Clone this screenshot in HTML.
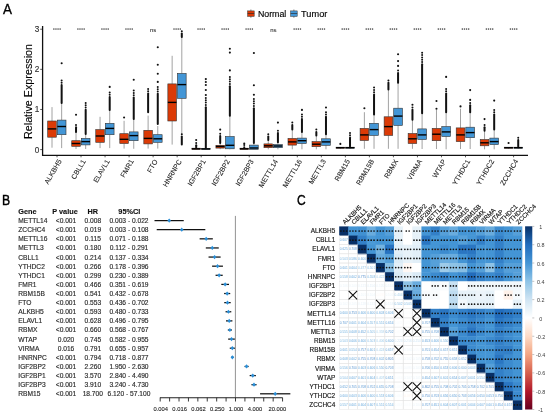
<!DOCTYPE html><html><head><meta charset="utf-8"><style>html,body{margin:0;padding:0;background:#fff;overflow:hidden;width:550px;height:414px;}svg{display:block;will-change:transform;}</style></head><body>
<svg width="550" height="414" viewBox="0 0 550 414" font-family='"Liberation Sans", sans-serif'>
<rect width="550" height="414" fill="#fff"/>
<g id="A">
<text x="3" y="13.9" font-size="15.3" transform="translate(3 0) scale(0.88 1) translate(-3 0)" fill="#000" stroke="#000" stroke-width="0.35">A</text>
<line x1="40.2" x2="42.6" y1="149.60" y2="149.60" stroke="#333" stroke-width="0.8"/>
<text x="39.2" y="152.50" font-size="8.2" text-anchor="end" fill="#333" stroke="#333" stroke-width="0.15">0</text>
<line x1="40.2" x2="42.6" y1="109.47" y2="109.47" stroke="#333" stroke-width="0.8"/>
<text x="39.2" y="112.37" font-size="8.2" text-anchor="end" fill="#333" stroke="#333" stroke-width="0.15">1</text>
<line x1="40.2" x2="42.6" y1="69.34" y2="69.34" stroke="#333" stroke-width="0.8"/>
<text x="39.2" y="72.24" font-size="8.2" text-anchor="end" fill="#333" stroke="#333" stroke-width="0.15">2</text>
<line x1="40.2" x2="42.6" y1="29.21" y2="29.21" stroke="#333" stroke-width="0.8"/>
<text x="39.2" y="32.11" font-size="8.2" text-anchor="end" fill="#333" stroke="#333" stroke-width="0.15">3</text>
<text transform="translate(31.9 91.5) rotate(-90)" font-size="10.75" text-anchor="middle" fill="#000" stroke="#000" stroke-width="0.1">Relative Expression</text>
<line x1="52.00" x2="52.00" y1="107.10" y2="121.00" stroke="#8a8a8a" stroke-width="0.8"/>
<line x1="52.00" x2="52.00" y1="137.20" y2="147.70" stroke="#8a8a8a" stroke-width="0.8"/>
<rect x="47.70" y="121.00" width="8.60" height="16.20" fill="#db3a06" stroke="#333" stroke-width="0.6"/>
<line x1="47.70" x2="56.30" y1="128.90" y2="128.90" stroke="#000" stroke-width="1.4"/>
<line x1="61.65" x2="61.65" y1="103.00" y2="120.10" stroke="#8a8a8a" stroke-width="0.8"/>
<line x1="61.65" x2="61.65" y1="134.70" y2="148.10" stroke="#8a8a8a" stroke-width="0.8"/>
<circle cx="61.65" cy="80.40" r="1.0" fill="#111"/>
<circle cx="61.65" cy="82.70" r="1.0" fill="#111"/>
<rect x="60.65" y="84.00" width="2.0" height="20.00" rx="1.0" fill="#111"/>
<circle cx="61.65" cy="63.30" r="1.05" fill="#111"/>
<rect x="57.30" y="120.10" width="8.70" height="14.60" fill="#4396d6" stroke="#333" stroke-width="0.6"/>
<line x1="57.30" x2="66.00" y1="126.50" y2="126.50" stroke="#000" stroke-width="1.4"/>
<rect x="53.20" y="28.3" width="1.3" height="1.5" fill="#585858"/>
<rect x="55.30" y="28.3" width="1.3" height="1.5" fill="#585858"/>
<rect x="57.40" y="28.3" width="1.3" height="1.5" fill="#585858"/>
<rect x="59.50" y="28.3" width="1.3" height="1.5" fill="#585858"/>
<line x1="57.00" x2="57.00" y1="155.3" y2="157.3" stroke="#333" stroke-width="0.8"/>
<text transform="translate(57.70 158.80) rotate(-60)" font-size="7.1" text-anchor="end" fill="#1a1a1a" stroke="#1a1a1a" stroke-width="0.08" dominant-baseline="hanging">ALKBH5</text>
<line x1="76.03" x2="76.03" y1="131.90" y2="140.70" stroke="#8a8a8a" stroke-width="0.8"/>
<line x1="76.03" x2="76.03" y1="146.30" y2="149.00" stroke="#8a8a8a" stroke-width="0.8"/>
<circle cx="76.03" cy="125.00" r="1.0" fill="#111"/>
<rect x="75.03" y="126.30" width="2.0" height="6.60" rx="1.0" fill="#111"/>
<circle cx="76.03" cy="114.80" r="1.05" fill="#111"/>
<rect x="71.73" y="140.70" width="8.60" height="5.60" fill="#db3a06" stroke="#333" stroke-width="0.6"/>
<line x1="71.73" x2="80.33" y1="143.50" y2="143.50" stroke="#000" stroke-width="1.4"/>
<line x1="85.68" x2="85.68" y1="134.00" y2="138.40" stroke="#8a8a8a" stroke-width="0.8"/>
<line x1="85.68" x2="85.68" y1="144.90" y2="149.00" stroke="#8a8a8a" stroke-width="0.8"/>
<circle cx="85.68" cy="102.90" r="1.0" fill="#111"/>
<circle cx="85.68" cy="105.20" r="1.0" fill="#111"/>
<circle cx="85.68" cy="107.50" r="1.0" fill="#111"/>
<rect x="84.68" y="108.80" width="2.0" height="26.20" rx="1.0" fill="#111"/>
<rect x="81.33" y="138.40" width="8.70" height="6.50" fill="#4396d6" stroke="#333" stroke-width="0.6"/>
<line x1="81.33" x2="90.03" y1="141.60" y2="141.60" stroke="#000" stroke-width="1.4"/>
<rect x="77.23" y="28.3" width="1.3" height="1.5" fill="#585858"/>
<rect x="79.33" y="28.3" width="1.3" height="1.5" fill="#585858"/>
<rect x="81.43" y="28.3" width="1.3" height="1.5" fill="#585858"/>
<rect x="83.53" y="28.3" width="1.3" height="1.5" fill="#585858"/>
<line x1="81.03" x2="81.03" y1="155.3" y2="157.3" stroke="#333" stroke-width="0.8"/>
<text transform="translate(81.73 158.80) rotate(-60)" font-size="7.1" text-anchor="end" fill="#1a1a1a" stroke="#1a1a1a" stroke-width="0.08" dominant-baseline="hanging">CBLL1</text>
<line x1="100.06" x2="100.06" y1="116.80" y2="129.60" stroke="#8a8a8a" stroke-width="0.8"/>
<line x1="100.06" x2="100.06" y1="142.30" y2="148.10" stroke="#8a8a8a" stroke-width="0.8"/>
<rect x="95.76" y="129.60" width="8.60" height="12.70" fill="#db3a06" stroke="#333" stroke-width="0.6"/>
<line x1="95.76" x2="104.36" y1="136.00" y2="136.00" stroke="#000" stroke-width="1.4"/>
<line x1="109.71" x2="109.71" y1="110.00" y2="123.30" stroke="#8a8a8a" stroke-width="0.8"/>
<line x1="109.71" x2="109.71" y1="134.70" y2="148.10" stroke="#8a8a8a" stroke-width="0.8"/>
<circle cx="109.71" cy="92.40" r="1.0" fill="#111"/>
<circle cx="109.71" cy="94.70" r="1.0" fill="#111"/>
<rect x="108.71" y="96.00" width="2.0" height="15.00" rx="1.0" fill="#111"/>
<circle cx="109.71" cy="86.90" r="1.05" fill="#111"/>
<rect x="105.36" y="123.30" width="8.70" height="11.40" fill="#4396d6" stroke="#333" stroke-width="0.6"/>
<line x1="105.36" x2="114.06" y1="128.40" y2="128.40" stroke="#000" stroke-width="1.4"/>
<rect x="101.26" y="28.3" width="1.3" height="1.5" fill="#585858"/>
<rect x="103.36" y="28.3" width="1.3" height="1.5" fill="#585858"/>
<rect x="105.46" y="28.3" width="1.3" height="1.5" fill="#585858"/>
<rect x="107.56" y="28.3" width="1.3" height="1.5" fill="#585858"/>
<line x1="105.06" x2="105.06" y1="155.3" y2="157.3" stroke="#333" stroke-width="0.8"/>
<text transform="translate(105.76 158.80) rotate(-60)" font-size="7.1" text-anchor="end" fill="#1a1a1a" stroke="#1a1a1a" stroke-width="0.08" dominant-baseline="hanging">ELAVL1</text>
<line x1="124.09" x2="124.09" y1="120.80" y2="133.70" stroke="#8a8a8a" stroke-width="0.8"/>
<line x1="124.09" x2="124.09" y1="143.50" y2="148.60" stroke="#8a8a8a" stroke-width="0.8"/>
<circle cx="124.09" cy="117.50" r="1.05" fill="#111"/>
<rect x="119.79" y="133.70" width="8.60" height="9.80" fill="#db3a06" stroke="#333" stroke-width="0.6"/>
<line x1="119.79" x2="128.39" y1="139.30" y2="139.30" stroke="#000" stroke-width="1.4"/>
<line x1="133.74" x2="133.74" y1="119.00" y2="131.90" stroke="#8a8a8a" stroke-width="0.8"/>
<line x1="133.74" x2="133.74" y1="140.70" y2="148.80" stroke="#8a8a8a" stroke-width="0.8"/>
<circle cx="133.74" cy="90.60" r="1.0" fill="#111"/>
<circle cx="133.74" cy="92.90" r="1.0" fill="#111"/>
<circle cx="133.74" cy="95.20" r="1.0" fill="#111"/>
<rect x="132.74" y="96.50" width="2.0" height="23.50" rx="1.0" fill="#111"/>
<circle cx="133.74" cy="79.70" r="1.05" fill="#111"/>
<rect x="129.39" y="131.90" width="8.70" height="8.80" fill="#4396d6" stroke="#333" stroke-width="0.6"/>
<line x1="129.39" x2="138.09" y1="135.60" y2="135.60" stroke="#000" stroke-width="1.4"/>
<rect x="125.29" y="28.3" width="1.3" height="1.5" fill="#585858"/>
<rect x="127.39" y="28.3" width="1.3" height="1.5" fill="#585858"/>
<rect x="129.49" y="28.3" width="1.3" height="1.5" fill="#585858"/>
<rect x="131.59" y="28.3" width="1.3" height="1.5" fill="#585858"/>
<line x1="129.09" x2="129.09" y1="155.3" y2="157.3" stroke="#333" stroke-width="0.8"/>
<text transform="translate(129.79 158.80) rotate(-60)" font-size="7.1" text-anchor="end" fill="#1a1a1a" stroke="#1a1a1a" stroke-width="0.08" dominant-baseline="hanging">FMR1</text>
<line x1="148.12" x2="148.12" y1="115.60" y2="130.30" stroke="#8a8a8a" stroke-width="0.8"/>
<line x1="148.12" x2="148.12" y1="143.90" y2="148.60" stroke="#8a8a8a" stroke-width="0.8"/>
<circle cx="148.12" cy="89.00" r="1.0" fill="#111"/>
<circle cx="148.12" cy="91.30" r="1.0" fill="#111"/>
<rect x="147.12" y="92.60" width="2.0" height="20.60" rx="1.0" fill="#111"/>
<rect x="143.82" y="130.30" width="8.60" height="13.60" fill="#db3a06" stroke="#333" stroke-width="0.6"/>
<line x1="143.82" x2="152.42" y1="138.40" y2="138.40" stroke="#000" stroke-width="1.4"/>
<line x1="157.77" x2="157.77" y1="126.00" y2="134.70" stroke="#8a8a8a" stroke-width="0.8"/>
<line x1="157.77" x2="157.77" y1="142.30" y2="148.60" stroke="#8a8a8a" stroke-width="0.8"/>
<circle cx="157.77" cy="86.90" r="1.0" fill="#111"/>
<circle cx="157.77" cy="89.20" r="1.0" fill="#111"/>
<circle cx="157.77" cy="91.50" r="1.0" fill="#111"/>
<rect x="156.77" y="92.80" width="2.0" height="32.20" rx="1.0" fill="#111"/>
<circle cx="157.77" cy="47.20" r="1.05" fill="#111"/>
<circle cx="157.77" cy="64.70" r="1.05" fill="#111"/>
<circle cx="157.77" cy="73.80" r="1.05" fill="#111"/>
<circle cx="157.77" cy="81.90" r="1.05" fill="#111"/>
<rect x="153.42" y="134.70" width="8.70" height="7.60" fill="#4396d6" stroke="#333" stroke-width="0.6"/>
<line x1="153.42" x2="162.12" y1="138.80" y2="138.80" stroke="#000" stroke-width="1.4"/>
<text x="153.12" y="31.9" font-size="5.9" text-anchor="middle" fill="#333" stroke="#333" stroke-width="0.1">ns</text>
<line x1="153.12" x2="153.12" y1="155.3" y2="157.3" stroke="#333" stroke-width="0.8"/>
<text transform="translate(153.82 158.80) rotate(-60)" font-size="7.1" text-anchor="end" fill="#1a1a1a" stroke="#1a1a1a" stroke-width="0.08" dominant-baseline="hanging">FTO</text>
<line x1="172.15" x2="172.15" y1="55.80" y2="83.90" stroke="#8a8a8a" stroke-width="0.8"/>
<line x1="172.15" x2="172.15" y1="121.00" y2="144.60" stroke="#8a8a8a" stroke-width="0.8"/>
<rect x="167.85" y="83.90" width="8.60" height="37.10" fill="#db3a06" stroke="#333" stroke-width="0.6"/>
<line x1="167.85" x2="176.45" y1="102.40" y2="102.40" stroke="#000" stroke-width="1.4"/>
<line x1="181.80" x2="181.80" y1="37.00" y2="73.40" stroke="#8a8a8a" stroke-width="0.8"/>
<line x1="181.80" x2="181.80" y1="98.30" y2="134.20" stroke="#8a8a8a" stroke-width="0.8"/>
<circle cx="181.80" cy="31.20" r="1.0" fill="#111"/>
<rect x="180.80" y="32.50" width="2.0" height="5.50" rx="1.0" fill="#111"/>
<circle cx="181.80" cy="134.20" r="1.0" fill="#111"/>
<rect x="180.80" y="135.50" width="2.0" height="10.10" rx="1.0" fill="#111"/>
<rect x="177.45" y="73.40" width="8.70" height="24.90" fill="#4396d6" stroke="#333" stroke-width="0.6"/>
<line x1="177.45" x2="186.15" y1="84.60" y2="84.60" stroke="#000" stroke-width="1.4"/>
<rect x="173.35" y="28.3" width="1.3" height="1.5" fill="#585858"/>
<rect x="175.45" y="28.3" width="1.3" height="1.5" fill="#585858"/>
<rect x="177.55" y="28.3" width="1.3" height="1.5" fill="#585858"/>
<rect x="179.65" y="28.3" width="1.3" height="1.5" fill="#585858"/>
<line x1="177.15" x2="177.15" y1="155.3" y2="157.3" stroke="#333" stroke-width="0.8"/>
<text transform="translate(177.85 158.80) rotate(-60)" font-size="7.1" text-anchor="end" fill="#1a1a1a" stroke="#1a1a1a" stroke-width="0.08" dominant-baseline="hanging">HNRNPC</text>
<line x1="196.18" x2="196.18" y1="148.00" y2="148.20" stroke="#8a8a8a" stroke-width="0.8"/>
<line x1="196.18" x2="196.18" y1="149.30" y2="149.50" stroke="#8a8a8a" stroke-width="0.8"/>
<circle cx="196.18" cy="143.00" r="1.0" fill="#111"/>
<rect x="195.18" y="144.30" width="2.0" height="4.20" rx="1.0" fill="#111"/>
<circle cx="196.18" cy="140.00" r="1.05" fill="#111"/>
<rect x="191.88" y="148.20" width="8.60" height="1.10" fill="#db3a06" stroke="#333" stroke-width="0.6"/>
<line x1="191.88" x2="200.48" y1="148.80" y2="148.80" stroke="#000" stroke-width="1.4"/>
<line x1="205.83" x2="205.83" y1="148.50" y2="148.40" stroke="#8a8a8a" stroke-width="0.8"/>
<line x1="205.83" x2="205.83" y1="149.30" y2="149.50" stroke="#8a8a8a" stroke-width="0.8"/>
<circle cx="205.83" cy="98.00" r="1.0" fill="#111"/>
<circle cx="205.83" cy="100.30" r="1.0" fill="#111"/>
<circle cx="205.83" cy="102.60" r="1.0" fill="#111"/>
<circle cx="205.83" cy="104.90" r="1.0" fill="#111"/>
<rect x="204.83" y="106.20" width="2.0" height="42.80" rx="1.0" fill="#111"/>
<circle cx="205.83" cy="79.10" r="1.05" fill="#111"/>
<circle cx="205.83" cy="82.00" r="1.05" fill="#111"/>
<circle cx="205.83" cy="85.00" r="1.05" fill="#111"/>
<circle cx="205.83" cy="90.00" r="1.05" fill="#111"/>
<circle cx="205.83" cy="95.00" r="1.05" fill="#111"/>
<rect x="201.48" y="148.40" width="8.70" height="0.90" fill="#4396d6" stroke="#333" stroke-width="0.6"/>
<line x1="201.48" x2="210.18" y1="148.90" y2="148.90" stroke="#000" stroke-width="1.4"/>
<rect x="197.38" y="28.3" width="1.3" height="1.5" fill="#585858"/>
<rect x="199.48" y="28.3" width="1.3" height="1.5" fill="#585858"/>
<rect x="201.58" y="28.3" width="1.3" height="1.5" fill="#585858"/>
<rect x="203.68" y="28.3" width="1.3" height="1.5" fill="#585858"/>
<line x1="201.18" x2="201.18" y1="155.3" y2="157.3" stroke="#333" stroke-width="0.8"/>
<text transform="translate(201.88 158.80) rotate(-60)" font-size="7.1" text-anchor="end" fill="#1a1a1a" stroke="#1a1a1a" stroke-width="0.08" dominant-baseline="hanging">IGF2BP1</text>
<line x1="220.21" x2="220.21" y1="143.00" y2="145.30" stroke="#8a8a8a" stroke-width="0.8"/>
<line x1="220.21" x2="220.21" y1="148.10" y2="149.20" stroke="#8a8a8a" stroke-width="0.8"/>
<circle cx="220.21" cy="133.80" r="1.0" fill="#111"/>
<rect x="219.21" y="135.10" width="2.0" height="8.90" rx="1.0" fill="#111"/>
<circle cx="220.21" cy="129.60" r="1.05" fill="#111"/>
<rect x="215.91" y="145.30" width="8.60" height="2.80" fill="#db3a06" stroke="#333" stroke-width="0.6"/>
<line x1="215.91" x2="224.51" y1="146.50" y2="146.50" stroke="#000" stroke-width="1.4"/>
<line x1="229.86" x2="229.86" y1="115.70" y2="136.50" stroke="#8a8a8a" stroke-width="0.8"/>
<line x1="229.86" x2="229.86" y1="148.80" y2="149.30" stroke="#8a8a8a" stroke-width="0.8"/>
<circle cx="229.86" cy="77.00" r="1.0" fill="#111"/>
<circle cx="229.86" cy="79.30" r="1.0" fill="#111"/>
<circle cx="229.86" cy="81.60" r="1.0" fill="#111"/>
<circle cx="229.86" cy="83.90" r="1.0" fill="#111"/>
<rect x="228.86" y="85.20" width="2.0" height="31.50" rx="1.0" fill="#111"/>
<circle cx="229.86" cy="48.70" r="1.05" fill="#111"/>
<circle cx="229.86" cy="52.60" r="1.05" fill="#111"/>
<circle cx="229.86" cy="70.40" r="1.05" fill="#111"/>
<rect x="225.51" y="136.50" width="8.70" height="12.30" fill="#4396d6" stroke="#333" stroke-width="0.6"/>
<line x1="225.51" x2="234.21" y1="145.30" y2="145.30" stroke="#000" stroke-width="1.4"/>
<rect x="221.41" y="28.3" width="1.3" height="1.5" fill="#585858"/>
<rect x="223.51" y="28.3" width="1.3" height="1.5" fill="#585858"/>
<rect x="225.61" y="28.3" width="1.3" height="1.5" fill="#585858"/>
<rect x="227.71" y="28.3" width="1.3" height="1.5" fill="#585858"/>
<line x1="225.21" x2="225.21" y1="155.3" y2="157.3" stroke="#333" stroke-width="0.8"/>
<text transform="translate(225.91 158.80) rotate(-60)" font-size="7.1" text-anchor="end" fill="#1a1a1a" stroke="#1a1a1a" stroke-width="0.08" dominant-baseline="hanging">IGF2BP2</text>
<line x1="244.24" x2="244.24" y1="148.00" y2="148.20" stroke="#8a8a8a" stroke-width="0.8"/>
<line x1="244.24" x2="244.24" y1="149.30" y2="149.50" stroke="#8a8a8a" stroke-width="0.8"/>
<circle cx="244.24" cy="145.00" r="1.0" fill="#111"/>
<rect x="243.24" y="146.30" width="2.0" height="2.20" rx="1.0" fill="#111"/>
<circle cx="244.24" cy="143.50" r="1.05" fill="#111"/>
<rect x="239.94" y="148.20" width="8.60" height="1.10" fill="#db3a06" stroke="#333" stroke-width="0.6"/>
<line x1="239.94" x2="248.54" y1="148.80" y2="148.80" stroke="#000" stroke-width="1.4"/>
<line x1="253.89" x2="253.89" y1="143.00" y2="145.10" stroke="#8a8a8a" stroke-width="0.8"/>
<line x1="253.89" x2="253.89" y1="149.30" y2="149.50" stroke="#8a8a8a" stroke-width="0.8"/>
<circle cx="253.89" cy="99.00" r="1.0" fill="#111"/>
<circle cx="253.89" cy="101.30" r="1.0" fill="#111"/>
<circle cx="253.89" cy="103.60" r="1.0" fill="#111"/>
<circle cx="253.89" cy="105.90" r="1.0" fill="#111"/>
<rect x="252.89" y="107.20" width="2.0" height="36.80" rx="1.0" fill="#111"/>
<circle cx="253.89" cy="53.00" r="1.05" fill="#111"/>
<circle cx="253.89" cy="85.20" r="1.05" fill="#111"/>
<circle cx="253.89" cy="94.80" r="1.05" fill="#111"/>
<rect x="249.54" y="145.10" width="8.70" height="4.20" fill="#4396d6" stroke="#333" stroke-width="0.6"/>
<line x1="249.54" x2="258.24" y1="148.00" y2="148.00" stroke="#000" stroke-width="1.4"/>
<rect x="245.44" y="28.3" width="1.3" height="1.5" fill="#585858"/>
<rect x="247.54" y="28.3" width="1.3" height="1.5" fill="#585858"/>
<rect x="249.64" y="28.3" width="1.3" height="1.5" fill="#585858"/>
<rect x="251.74" y="28.3" width="1.3" height="1.5" fill="#585858"/>
<line x1="249.24" x2="249.24" y1="155.3" y2="157.3" stroke="#333" stroke-width="0.8"/>
<text transform="translate(249.94 158.80) rotate(-60)" font-size="7.1" text-anchor="end" fill="#1a1a1a" stroke="#1a1a1a" stroke-width="0.08" dominant-baseline="hanging">IGF2BP3</text>
<line x1="268.27" x2="268.27" y1="140.00" y2="143.90" stroke="#8a8a8a" stroke-width="0.8"/>
<line x1="268.27" x2="268.27" y1="147.70" y2="149.30" stroke="#8a8a8a" stroke-width="0.8"/>
<circle cx="268.27" cy="134.20" r="1.0" fill="#111"/>
<rect x="267.27" y="135.50" width="2.0" height="5.50" rx="1.0" fill="#111"/>
<rect x="263.97" y="143.90" width="8.60" height="3.80" fill="#db3a06" stroke="#333" stroke-width="0.6"/>
<line x1="263.97" x2="272.57" y1="145.80" y2="145.80" stroke="#000" stroke-width="1.4"/>
<line x1="277.92" x2="277.92" y1="142.30" y2="144.60" stroke="#8a8a8a" stroke-width="0.8"/>
<line x1="277.92" x2="277.92" y1="147.70" y2="149.30" stroke="#8a8a8a" stroke-width="0.8"/>
<circle cx="277.92" cy="130.70" r="1.0" fill="#111"/>
<rect x="276.92" y="132.00" width="2.0" height="11.30" rx="1.0" fill="#111"/>
<circle cx="277.92" cy="122.60" r="1.05" fill="#111"/>
<rect x="273.57" y="144.60" width="8.70" height="3.10" fill="#4396d6" stroke="#333" stroke-width="0.6"/>
<line x1="273.57" x2="282.27" y1="146.00" y2="146.00" stroke="#000" stroke-width="1.4"/>
<text x="273.27" y="31.9" font-size="5.9" text-anchor="middle" fill="#333" stroke="#333" stroke-width="0.1">ns</text>
<line x1="273.27" x2="273.27" y1="155.3" y2="157.3" stroke="#333" stroke-width="0.8"/>
<text transform="translate(273.97 158.80) rotate(-60)" font-size="7.1" text-anchor="end" fill="#1a1a1a" stroke="#1a1a1a" stroke-width="0.08" dominant-baseline="hanging">METTL14</text>
<line x1="292.30" x2="292.30" y1="130.00" y2="138.40" stroke="#8a8a8a" stroke-width="0.8"/>
<line x1="292.30" x2="292.30" y1="145.10" y2="149.30" stroke="#8a8a8a" stroke-width="0.8"/>
<circle cx="292.30" cy="122.60" r="1.0" fill="#111"/>
<rect x="291.30" y="123.90" width="2.0" height="6.70" rx="1.0" fill="#111"/>
<rect x="288.00" y="138.40" width="8.60" height="6.70" fill="#db3a06" stroke="#333" stroke-width="0.6"/>
<line x1="288.00" x2="296.60" y1="141.90" y2="141.90" stroke="#000" stroke-width="1.4"/>
<line x1="301.95" x2="301.95" y1="132.00" y2="138.10" stroke="#8a8a8a" stroke-width="0.8"/>
<line x1="301.95" x2="301.95" y1="143.50" y2="149.30" stroke="#8a8a8a" stroke-width="0.8"/>
<circle cx="301.95" cy="114.50" r="1.0" fill="#111"/>
<circle cx="301.95" cy="116.80" r="1.0" fill="#111"/>
<rect x="300.95" y="118.10" width="2.0" height="14.80" rx="1.0" fill="#111"/>
<circle cx="301.95" cy="109.90" r="1.05" fill="#111"/>
<rect x="297.60" y="138.10" width="8.70" height="5.40" fill="#4396d6" stroke="#333" stroke-width="0.6"/>
<line x1="297.60" x2="306.30" y1="140.70" y2="140.70" stroke="#000" stroke-width="1.4"/>
<rect x="293.50" y="28.3" width="1.3" height="1.5" fill="#585858"/>
<rect x="295.60" y="28.3" width="1.3" height="1.5" fill="#585858"/>
<rect x="297.70" y="28.3" width="1.3" height="1.5" fill="#585858"/>
<rect x="299.80" y="28.3" width="1.3" height="1.5" fill="#585858"/>
<line x1="297.30" x2="297.30" y1="155.3" y2="157.3" stroke="#333" stroke-width="0.8"/>
<text transform="translate(298.00 158.80) rotate(-60)" font-size="7.1" text-anchor="end" fill="#1a1a1a" stroke="#1a1a1a" stroke-width="0.08" dominant-baseline="hanging">METTL16</text>
<line x1="316.33" x2="316.33" y1="136.00" y2="141.60" stroke="#8a8a8a" stroke-width="0.8"/>
<line x1="316.33" x2="316.33" y1="146.70" y2="149.30" stroke="#8a8a8a" stroke-width="0.8"/>
<circle cx="316.33" cy="129.60" r="1.0" fill="#111"/>
<rect x="315.33" y="130.90" width="2.0" height="5.50" rx="1.0" fill="#111"/>
<rect x="312.03" y="141.60" width="8.60" height="5.10" fill="#db3a06" stroke="#333" stroke-width="0.6"/>
<line x1="312.03" x2="320.63" y1="144.20" y2="144.20" stroke="#000" stroke-width="1.4"/>
<line x1="325.98" x2="325.98" y1="134.20" y2="138.80" stroke="#8a8a8a" stroke-width="0.8"/>
<line x1="325.98" x2="325.98" y1="145.30" y2="149.30" stroke="#8a8a8a" stroke-width="0.8"/>
<circle cx="325.98" cy="112.20" r="1.0" fill="#111"/>
<circle cx="325.98" cy="114.50" r="1.0" fill="#111"/>
<rect x="324.98" y="115.80" width="2.0" height="19.40" rx="1.0" fill="#111"/>
<circle cx="325.98" cy="107.50" r="1.05" fill="#111"/>
<rect x="321.63" y="138.80" width="8.70" height="6.50" fill="#4396d6" stroke="#333" stroke-width="0.6"/>
<line x1="321.63" x2="330.33" y1="141.90" y2="141.90" stroke="#000" stroke-width="1.4"/>
<rect x="317.53" y="28.3" width="1.3" height="1.5" fill="#585858"/>
<rect x="319.63" y="28.3" width="1.3" height="1.5" fill="#585858"/>
<rect x="321.73" y="28.3" width="1.3" height="1.5" fill="#585858"/>
<rect x="323.83" y="28.3" width="1.3" height="1.5" fill="#585858"/>
<line x1="321.33" x2="321.33" y1="155.3" y2="157.3" stroke="#333" stroke-width="0.8"/>
<text transform="translate(322.03 158.80) rotate(-60)" font-size="7.1" text-anchor="end" fill="#1a1a1a" stroke="#1a1a1a" stroke-width="0.08" dominant-baseline="hanging">METTL3</text>
<line x1="340.36" x2="340.36" y1="147.00" y2="147.20" stroke="#8a8a8a" stroke-width="0.8"/>
<line x1="340.36" x2="340.36" y1="148.20" y2="149.00" stroke="#8a8a8a" stroke-width="0.8"/>
<circle cx="340.36" cy="143.90" r="1.05" fill="#111"/>
<rect x="336.06" y="147.20" width="8.60" height="1.00" fill="#db3a06" stroke="#333" stroke-width="0.6"/>
<line x1="336.06" x2="344.66" y1="147.70" y2="147.70" stroke="#000" stroke-width="1.4"/>
<line x1="350.01" x2="350.01" y1="146.50" y2="147.20" stroke="#8a8a8a" stroke-width="0.8"/>
<line x1="350.01" x2="350.01" y1="148.20" y2="149.00" stroke="#8a8a8a" stroke-width="0.8"/>
<circle cx="350.01" cy="133.00" r="1.0" fill="#111"/>
<circle cx="350.01" cy="135.30" r="1.0" fill="#111"/>
<rect x="349.01" y="136.60" width="2.0" height="10.90" rx="1.0" fill="#111"/>
<rect x="345.66" y="147.20" width="8.70" height="1.00" fill="#4396d6" stroke="#333" stroke-width="0.6"/>
<line x1="345.66" x2="354.36" y1="147.70" y2="147.70" stroke="#000" stroke-width="1.4"/>
<rect x="341.56" y="28.3" width="1.3" height="1.5" fill="#585858"/>
<rect x="343.66" y="28.3" width="1.3" height="1.5" fill="#585858"/>
<rect x="345.76" y="28.3" width="1.3" height="1.5" fill="#585858"/>
<rect x="347.86" y="28.3" width="1.3" height="1.5" fill="#585858"/>
<line x1="345.36" x2="345.36" y1="155.3" y2="157.3" stroke="#333" stroke-width="0.8"/>
<text transform="translate(346.06 158.80) rotate(-60)" font-size="7.1" text-anchor="end" fill="#1a1a1a" stroke="#1a1a1a" stroke-width="0.08" dominant-baseline="hanging">RBM15</text>
<line x1="364.39" x2="364.39" y1="112.20" y2="128.40" stroke="#8a8a8a" stroke-width="0.8"/>
<line x1="364.39" x2="364.39" y1="140.50" y2="148.80" stroke="#8a8a8a" stroke-width="0.8"/>
<circle cx="364.39" cy="108.20" r="1.05" fill="#111"/>
<rect x="360.09" y="128.40" width="8.60" height="12.10" fill="#db3a06" stroke="#333" stroke-width="0.6"/>
<line x1="360.09" x2="368.69" y1="134.90" y2="134.90" stroke="#000" stroke-width="1.4"/>
<line x1="374.04" x2="374.04" y1="114.50" y2="123.30" stroke="#8a8a8a" stroke-width="0.8"/>
<line x1="374.04" x2="374.04" y1="135.40" y2="148.80" stroke="#8a8a8a" stroke-width="0.8"/>
<circle cx="374.04" cy="87.60" r="1.0" fill="#111"/>
<circle cx="374.04" cy="89.90" r="1.0" fill="#111"/>
<circle cx="374.04" cy="92.20" r="1.0" fill="#111"/>
<rect x="373.04" y="93.50" width="2.0" height="22.00" rx="1.0" fill="#111"/>
<rect x="369.69" y="123.30" width="8.70" height="12.10" fill="#4396d6" stroke="#333" stroke-width="0.6"/>
<line x1="369.69" x2="378.39" y1="129.60" y2="129.60" stroke="#000" stroke-width="1.4"/>
<rect x="365.59" y="28.3" width="1.3" height="1.5" fill="#585858"/>
<rect x="367.69" y="28.3" width="1.3" height="1.5" fill="#585858"/>
<rect x="369.79" y="28.3" width="1.3" height="1.5" fill="#585858"/>
<rect x="371.89" y="28.3" width="1.3" height="1.5" fill="#585858"/>
<line x1="369.39" x2="369.39" y1="155.3" y2="157.3" stroke="#333" stroke-width="0.8"/>
<text transform="translate(370.09 158.80) rotate(-60)" font-size="7.1" text-anchor="end" fill="#1a1a1a" stroke="#1a1a1a" stroke-width="0.08" dominant-baseline="hanging">RBM15B</text>
<line x1="388.42" x2="388.42" y1="90.10" y2="116.80" stroke="#8a8a8a" stroke-width="0.8"/>
<line x1="388.42" x2="388.42" y1="135.40" y2="148.80" stroke="#8a8a8a" stroke-width="0.8"/>
<circle cx="388.42" cy="80.40" r="1.0" fill="#111"/>
<rect x="387.42" y="81.70" width="2.0" height="8.80" rx="1.0" fill="#111"/>
<rect x="384.12" y="116.80" width="8.60" height="18.60" fill="#db3a06" stroke="#333" stroke-width="0.6"/>
<line x1="384.12" x2="392.72" y1="126.60" y2="126.60" stroke="#000" stroke-width="1.4"/>
<line x1="398.07" x2="398.07" y1="83.00" y2="108.20" stroke="#8a8a8a" stroke-width="0.8"/>
<line x1="398.07" x2="398.07" y1="125.40" y2="148.80" stroke="#8a8a8a" stroke-width="0.8"/>
<circle cx="398.07" cy="70.60" r="1.0" fill="#111"/>
<rect x="397.07" y="71.90" width="2.0" height="11.80" rx="1.0" fill="#111"/>
<circle cx="398.07" cy="54.20" r="1.05" fill="#111"/>
<circle cx="398.07" cy="61.10" r="1.05" fill="#111"/>
<circle cx="398.07" cy="65.90" r="1.05" fill="#111"/>
<rect x="393.72" y="108.20" width="8.70" height="17.20" fill="#4396d6" stroke="#333" stroke-width="0.6"/>
<line x1="393.72" x2="402.42" y1="116.10" y2="116.10" stroke="#000" stroke-width="1.4"/>
<rect x="389.62" y="28.3" width="1.3" height="1.5" fill="#585858"/>
<rect x="391.72" y="28.3" width="1.3" height="1.5" fill="#585858"/>
<rect x="393.82" y="28.3" width="1.3" height="1.5" fill="#585858"/>
<rect x="395.92" y="28.3" width="1.3" height="1.5" fill="#585858"/>
<line x1="393.42" x2="393.42" y1="155.3" y2="157.3" stroke="#333" stroke-width="0.8"/>
<text transform="translate(394.12 158.80) rotate(-60)" font-size="7.1" text-anchor="end" fill="#1a1a1a" stroke="#1a1a1a" stroke-width="0.08" dominant-baseline="hanging">RBMX</text>
<line x1="412.45" x2="412.45" y1="119.80" y2="133.50" stroke="#8a8a8a" stroke-width="0.8"/>
<line x1="412.45" x2="412.45" y1="143.50" y2="148.80" stroke="#8a8a8a" stroke-width="0.8"/>
<circle cx="412.45" cy="107.50" r="1.0" fill="#111"/>
<rect x="411.45" y="108.80" width="2.0" height="12.00" rx="1.0" fill="#111"/>
<circle cx="412.45" cy="104.80" r="1.05" fill="#111"/>
<rect x="408.15" y="133.50" width="8.60" height="10.00" fill="#db3a06" stroke="#333" stroke-width="0.6"/>
<line x1="408.15" x2="416.75" y1="138.80" y2="138.80" stroke="#000" stroke-width="1.4"/>
<line x1="422.10" x2="422.10" y1="113.30" y2="128.90" stroke="#8a8a8a" stroke-width="0.8"/>
<line x1="422.10" x2="422.10" y1="139.50" y2="149.00" stroke="#8a8a8a" stroke-width="0.8"/>
<circle cx="422.10" cy="52.80" r="1.0" fill="#111"/>
<circle cx="422.10" cy="55.10" r="1.0" fill="#111"/>
<circle cx="422.10" cy="57.40" r="1.0" fill="#111"/>
<circle cx="422.10" cy="59.70" r="1.0" fill="#111"/>
<circle cx="422.10" cy="62.00" r="1.0" fill="#111"/>
<rect x="421.10" y="63.30" width="2.0" height="51.00" rx="1.0" fill="#111"/>
<rect x="417.75" y="128.90" width="8.70" height="10.60" fill="#4396d6" stroke="#333" stroke-width="0.6"/>
<line x1="417.75" x2="426.45" y1="134.90" y2="134.90" stroke="#000" stroke-width="1.4"/>
<rect x="413.65" y="28.3" width="1.3" height="1.5" fill="#585858"/>
<rect x="415.75" y="28.3" width="1.3" height="1.5" fill="#585858"/>
<rect x="417.85" y="28.3" width="1.3" height="1.5" fill="#585858"/>
<rect x="419.95" y="28.3" width="1.3" height="1.5" fill="#585858"/>
<line x1="417.45" x2="417.45" y1="155.3" y2="157.3" stroke="#333" stroke-width="0.8"/>
<text transform="translate(418.15 158.80) rotate(-60)" font-size="7.1" text-anchor="end" fill="#1a1a1a" stroke="#1a1a1a" stroke-width="0.08" dominant-baseline="hanging">VIRMA</text>
<line x1="436.48" x2="436.48" y1="109.90" y2="128.40" stroke="#8a8a8a" stroke-width="0.8"/>
<line x1="436.48" x2="436.48" y1="140.70" y2="149.00" stroke="#8a8a8a" stroke-width="0.8"/>
<circle cx="436.48" cy="101.00" r="1.05" fill="#111"/>
<circle cx="436.48" cy="108.70" r="1.05" fill="#111"/>
<rect x="432.18" y="128.40" width="8.60" height="12.30" fill="#db3a06" stroke="#333" stroke-width="0.6"/>
<line x1="432.18" x2="440.78" y1="134.20" y2="134.20" stroke="#000" stroke-width="1.4"/>
<line x1="446.13" x2="446.13" y1="112.20" y2="126.60" stroke="#8a8a8a" stroke-width="0.8"/>
<line x1="446.13" x2="446.13" y1="136.50" y2="149.30" stroke="#8a8a8a" stroke-width="0.8"/>
<circle cx="446.13" cy="89.00" r="1.0" fill="#111"/>
<circle cx="446.13" cy="91.30" r="1.0" fill="#111"/>
<rect x="445.13" y="92.60" width="2.0" height="20.60" rx="1.0" fill="#111"/>
<circle cx="446.13" cy="76.90" r="1.05" fill="#111"/>
<rect x="441.78" y="126.60" width="8.70" height="9.90" fill="#4396d6" stroke="#333" stroke-width="0.6"/>
<line x1="441.78" x2="450.48" y1="131.90" y2="131.90" stroke="#000" stroke-width="1.4"/>
<rect x="437.68" y="28.3" width="1.3" height="1.5" fill="#585858"/>
<rect x="439.78" y="28.3" width="1.3" height="1.5" fill="#585858"/>
<rect x="441.88" y="28.3" width="1.3" height="1.5" fill="#585858"/>
<rect x="443.98" y="28.3" width="1.3" height="1.5" fill="#585858"/>
<line x1="441.48" x2="441.48" y1="155.3" y2="157.3" stroke="#333" stroke-width="0.8"/>
<text transform="translate(442.18 158.80) rotate(-60)" font-size="7.1" text-anchor="end" fill="#1a1a1a" stroke="#1a1a1a" stroke-width="0.08" dominant-baseline="hanging">WTAP</text>
<line x1="460.51" x2="460.51" y1="108.70" y2="127.90" stroke="#8a8a8a" stroke-width="0.8"/>
<line x1="460.51" x2="460.51" y1="141.60" y2="149.00" stroke="#8a8a8a" stroke-width="0.8"/>
<circle cx="460.51" cy="106.40" r="1.05" fill="#111"/>
<rect x="456.21" y="127.90" width="8.60" height="13.70" fill="#db3a06" stroke="#333" stroke-width="0.6"/>
<line x1="456.21" x2="464.81" y1="134.90" y2="134.90" stroke="#000" stroke-width="1.4"/>
<line x1="470.16" x2="470.16" y1="112.20" y2="127.20" stroke="#8a8a8a" stroke-width="0.8"/>
<line x1="470.16" x2="470.16" y1="137.70" y2="149.00" stroke="#8a8a8a" stroke-width="0.8"/>
<circle cx="470.16" cy="102.90" r="1.0" fill="#111"/>
<rect x="469.16" y="104.20" width="2.0" height="9.00" rx="1.0" fill="#111"/>
<circle cx="470.16" cy="90.10" r="1.05" fill="#111"/>
<circle cx="470.16" cy="99.90" r="1.05" fill="#111"/>
<rect x="465.81" y="127.20" width="8.70" height="10.50" fill="#4396d6" stroke="#333" stroke-width="0.6"/>
<line x1="465.81" x2="474.51" y1="132.60" y2="132.60" stroke="#000" stroke-width="1.4"/>
<rect x="461.71" y="28.3" width="1.3" height="1.5" fill="#585858"/>
<rect x="463.81" y="28.3" width="1.3" height="1.5" fill="#585858"/>
<rect x="465.91" y="28.3" width="1.3" height="1.5" fill="#585858"/>
<rect x="468.01" y="28.3" width="1.3" height="1.5" fill="#585858"/>
<line x1="465.51" x2="465.51" y1="155.3" y2="157.3" stroke="#333" stroke-width="0.8"/>
<text transform="translate(466.21 158.80) rotate(-60)" font-size="7.1" text-anchor="end" fill="#1a1a1a" stroke="#1a1a1a" stroke-width="0.08" dominant-baseline="hanging">YTHDC1</text>
<line x1="484.54" x2="484.54" y1="130.70" y2="139.50" stroke="#8a8a8a" stroke-width="0.8"/>
<line x1="484.54" x2="484.54" y1="145.80" y2="149.30" stroke="#8a8a8a" stroke-width="0.8"/>
<circle cx="484.54" cy="124.90" r="1.0" fill="#111"/>
<rect x="483.54" y="126.20" width="2.0" height="5.50" rx="1.0" fill="#111"/>
<circle cx="484.54" cy="119.10" r="1.05" fill="#111"/>
<rect x="480.24" y="139.50" width="8.60" height="6.30" fill="#db3a06" stroke="#333" stroke-width="0.6"/>
<line x1="480.24" x2="488.84" y1="142.80" y2="142.80" stroke="#000" stroke-width="1.4"/>
<line x1="494.19" x2="494.19" y1="129.60" y2="138.10" stroke="#8a8a8a" stroke-width="0.8"/>
<line x1="494.19" x2="494.19" y1="144.60" y2="149.30" stroke="#8a8a8a" stroke-width="0.8"/>
<circle cx="494.19" cy="109.90" r="1.0" fill="#111"/>
<circle cx="494.19" cy="112.20" r="1.0" fill="#111"/>
<rect x="493.19" y="113.50" width="2.0" height="17.10" rx="1.0" fill="#111"/>
<circle cx="494.19" cy="100.60" r="1.05" fill="#111"/>
<rect x="489.84" y="138.10" width="8.70" height="6.50" fill="#4396d6" stroke="#333" stroke-width="0.6"/>
<line x1="489.84" x2="498.54" y1="141.60" y2="141.60" stroke="#000" stroke-width="1.4"/>
<rect x="485.74" y="28.3" width="1.3" height="1.5" fill="#585858"/>
<rect x="487.84" y="28.3" width="1.3" height="1.5" fill="#585858"/>
<rect x="489.94" y="28.3" width="1.3" height="1.5" fill="#585858"/>
<rect x="492.04" y="28.3" width="1.3" height="1.5" fill="#585858"/>
<line x1="489.54" x2="489.54" y1="155.3" y2="157.3" stroke="#333" stroke-width="0.8"/>
<text transform="translate(490.24 158.80) rotate(-60)" font-size="7.1" text-anchor="end" fill="#1a1a1a" stroke="#1a1a1a" stroke-width="0.08" dominant-baseline="hanging">YTHDC2</text>
<line x1="508.57" x2="508.57" y1="147.00" y2="147.20" stroke="#8a8a8a" stroke-width="0.8"/>
<line x1="508.57" x2="508.57" y1="148.20" y2="149.00" stroke="#8a8a8a" stroke-width="0.8"/>
<circle cx="508.57" cy="143.00" r="1.05" fill="#111"/>
<rect x="504.27" y="147.20" width="8.60" height="1.00" fill="#db3a06" stroke="#333" stroke-width="0.6"/>
<line x1="504.27" x2="512.87" y1="147.70" y2="147.70" stroke="#000" stroke-width="1.4"/>
<line x1="518.22" x2="518.22" y1="146.50" y2="147.20" stroke="#8a8a8a" stroke-width="0.8"/>
<line x1="518.22" x2="518.22" y1="148.20" y2="149.00" stroke="#8a8a8a" stroke-width="0.8"/>
<circle cx="518.22" cy="137.70" r="1.0" fill="#111"/>
<rect x="517.22" y="139.00" width="2.0" height="8.50" rx="1.0" fill="#111"/>
<rect x="513.87" y="147.20" width="8.70" height="1.00" fill="#4396d6" stroke="#333" stroke-width="0.6"/>
<line x1="513.87" x2="522.57" y1="147.70" y2="147.70" stroke="#000" stroke-width="1.4"/>
<rect x="509.77" y="28.3" width="1.3" height="1.5" fill="#585858"/>
<rect x="511.87" y="28.3" width="1.3" height="1.5" fill="#585858"/>
<rect x="513.97" y="28.3" width="1.3" height="1.5" fill="#585858"/>
<rect x="516.07" y="28.3" width="1.3" height="1.5" fill="#585858"/>
<line x1="513.57" x2="513.57" y1="155.3" y2="157.3" stroke="#333" stroke-width="0.8"/>
<text transform="translate(514.27 158.80) rotate(-60)" font-size="7.1" text-anchor="end" fill="#1a1a1a" stroke="#1a1a1a" stroke-width="0.08" dominant-baseline="hanging">ZCCHC4</text>
<line x1="42.6" x2="42.6" y1="26" y2="156" stroke="#111" stroke-width="1.3"/>
<line x1="42" x2="528" y1="155.3" y2="155.3" stroke="#111" stroke-width="1.3"/>
<line x1="250.90" x2="250.90" y1="9.5" y2="17.8" stroke="#555" stroke-width="0.7"/>
<rect x="247.60" y="10.9" width="6.6" height="5.5" fill="#db3a06" stroke="#333" stroke-width="0.5"/>
<line x1="247.60" x2="254.20" y1="13.5" y2="13.5" stroke="#222" stroke-width="0.6"/>
<line x1="293.90" x2="293.90" y1="9.5" y2="17.8" stroke="#555" stroke-width="0.7"/>
<rect x="290.60" y="10.9" width="6.6" height="5.5" fill="#4396d6" stroke="#333" stroke-width="0.5"/>
<line x1="290.60" x2="297.20" y1="13.5" y2="13.5" stroke="#222" stroke-width="0.6"/>
<text x="257.9" y="17" font-size="9.3" fill="#000" stroke="#000" stroke-width="0.15" textLength="28.4" lengthAdjust="spacingAndGlyphs">Normal</text>
<text x="301.1" y="17" font-size="9.3" fill="#000" stroke="#000" stroke-width="0.15" textLength="26.2" lengthAdjust="spacingAndGlyphs">Tumor</text>
</g>
<g id="B">
<text x="1.9" y="204.9" font-size="14.7" transform="translate(1.9 0) scale(0.83 1) translate(-1.9 0)" fill="#000" stroke="#000" stroke-width="0.4">B</text>
<text x="18.3" y="213.6" font-size="7.300000000000001" font-weight="bold" fill="#111" stroke="#111" stroke-width="0.12">Gene</text>
<text x="65" y="213.6" font-size="7.300000000000001" font-weight="bold" text-anchor="middle" fill="#111" stroke="#111" stroke-width="0.12">P value</text>
<text x="92.7" y="213.6" font-size="7.300000000000001" font-weight="bold" text-anchor="middle" fill="#111" stroke="#111" stroke-width="0.12">HR</text>
<text x="129.3" y="213.6" font-size="7.300000000000001" font-weight="bold" text-anchor="middle" fill="#111" stroke="#111" stroke-width="0.12">95%CI</text>
<text x="18.3" y="223.10" font-size="6.65" fill="#2a2a2a" stroke="#2a2a2a" stroke-width="0.15">METTL14</text>
<text x="66" y="223.10" font-size="6.65" text-anchor="middle" fill="#2a2a2a" stroke="#2a2a2a" stroke-width="0.15">&lt;0.001</text>
<text x="92.8" y="223.10" font-size="6.65" text-anchor="middle" fill="#2a2a2a" stroke="#2a2a2a" stroke-width="0.15">0.008</text>
<text x="129" y="223.10" font-size="6.65" text-anchor="middle" fill="#2a2a2a" stroke="#2a2a2a" stroke-width="0.15">0.003 - 0.022</text>
<line x1="154.50" x2="183.74" y1="220.60" y2="220.60" stroke="#111" stroke-width="1.25"/>
<path d="M169.20 218.50 L171.00 220.60 L169.20 222.70 L167.40 220.60 Z" fill="#2a8fd8"/>
<text x="18.3" y="232.22" font-size="6.65" fill="#2a2a2a" stroke="#2a2a2a" stroke-width="0.15">ZCCHC4</text>
<text x="66" y="232.22" font-size="6.65" text-anchor="middle" fill="#2a2a2a" stroke="#2a2a2a" stroke-width="0.15">&lt;0.001</text>
<text x="92.8" y="232.22" font-size="6.65" text-anchor="middle" fill="#2a2a2a" stroke="#2a2a2a" stroke-width="0.15">0.019</text>
<text x="129" y="232.22" font-size="6.65" text-anchor="middle" fill="#2a2a2a" stroke="#2a2a2a" stroke-width="0.15">0.003 - 0.108</text>
<line x1="156.72" x2="205.32" y1="229.72" y2="229.72" stroke="#111" stroke-width="1.25"/>
<path d="M181.75 227.62 L183.55 229.72 L181.75 231.82 L179.95 229.72 Z" fill="#2a8fd8"/>
<text x="18.3" y="241.33" font-size="6.65" fill="#2a2a2a" stroke="#2a2a2a" stroke-width="0.15">METTL16</text>
<text x="66" y="241.33" font-size="6.65" text-anchor="middle" fill="#2a2a2a" stroke="#2a2a2a" stroke-width="0.15">&lt;0.001</text>
<text x="92.8" y="241.33" font-size="6.65" text-anchor="middle" fill="#2a2a2a" stroke="#2a2a2a" stroke-width="0.15">0.115</text>
<text x="129" y="241.33" font-size="6.65" text-anchor="middle" fill="#2a2a2a" stroke="#2a2a2a" stroke-width="0.15">0.071 - 0.188</text>
<line x1="199.63" x2="212.83" y1="238.83" y2="238.83" stroke="#111" stroke-width="1.25"/>
<path d="M206.17 236.73 L207.97 238.83 L206.17 240.93 L204.37 238.83 Z" fill="#2a8fd8"/>
<text x="18.3" y="250.45" font-size="6.65" fill="#2a2a2a" stroke="#2a2a2a" stroke-width="0.15">METTL3</text>
<text x="66" y="250.45" font-size="6.65" text-anchor="middle" fill="#2a2a2a" stroke="#2a2a2a" stroke-width="0.15">&lt;0.001</text>
<text x="92.8" y="250.45" font-size="6.65" text-anchor="middle" fill="#2a2a2a" stroke="#2a2a2a" stroke-width="0.15">0.180</text>
<text x="129" y="250.45" font-size="6.65" text-anchor="middle" fill="#2a2a2a" stroke="#2a2a2a" stroke-width="0.15">0.112 - 0.291</text>
<line x1="205.81" x2="218.76" y1="247.95" y2="247.95" stroke="#111" stroke-width="1.25"/>
<path d="M212.25 245.85 L214.05 247.95 L212.25 250.05 L210.45 247.95 Z" fill="#2a8fd8"/>
<text x="18.3" y="259.56" font-size="6.65" fill="#2a2a2a" stroke="#2a2a2a" stroke-width="0.15">CBLL1</text>
<text x="66" y="259.56" font-size="6.65" text-anchor="middle" fill="#2a2a2a" stroke="#2a2a2a" stroke-width="0.15">&lt;0.001</text>
<text x="92.8" y="259.56" font-size="6.65" text-anchor="middle" fill="#2a2a2a" stroke="#2a2a2a" stroke-width="0.15">0.214</text>
<text x="129" y="259.56" font-size="6.65" text-anchor="middle" fill="#2a2a2a" stroke="#2a2a2a" stroke-width="0.15">0.137 - 0.334</text>
<line x1="208.54" x2="220.63" y1="257.06" y2="257.06" stroke="#111" stroke-width="1.25"/>
<path d="M214.59 254.96 L216.39 257.06 L214.59 259.16 L212.79 257.06 Z" fill="#2a8fd8"/>
<text x="18.3" y="268.68" font-size="6.65" fill="#2a2a2a" stroke="#2a2a2a" stroke-width="0.15">YTHDC2</text>
<text x="66" y="268.68" font-size="6.65" text-anchor="middle" fill="#2a2a2a" stroke="#2a2a2a" stroke-width="0.15">&lt;0.001</text>
<text x="92.8" y="268.68" font-size="6.65" text-anchor="middle" fill="#2a2a2a" stroke="#2a2a2a" stroke-width="0.15">0.266</text>
<text x="129" y="268.68" font-size="6.65" text-anchor="middle" fill="#2a2a2a" stroke="#2a2a2a" stroke-width="0.15">0.178 - 0.396</text>
<line x1="212.09" x2="222.94" y1="266.18" y2="266.18" stroke="#111" stroke-width="1.25"/>
<path d="M217.54 264.08 L219.34 266.18 L217.54 268.28 L215.74 266.18 Z" fill="#2a8fd8"/>
<text x="18.3" y="277.80" font-size="6.65" fill="#2a2a2a" stroke="#2a2a2a" stroke-width="0.15">YTHDC1</text>
<text x="66" y="277.80" font-size="6.65" text-anchor="middle" fill="#2a2a2a" stroke="#2a2a2a" stroke-width="0.15">&lt;0.001</text>
<text x="92.8" y="277.80" font-size="6.65" text-anchor="middle" fill="#2a2a2a" stroke="#2a2a2a" stroke-width="0.15">0.299</text>
<text x="129" y="277.80" font-size="6.65" text-anchor="middle" fill="#2a2a2a" stroke="#2a2a2a" stroke-width="0.15">0.230 - 0.389</text>
<line x1="215.57" x2="222.70" y1="275.30" y2="275.30" stroke="#111" stroke-width="1.25"/>
<path d="M219.13 273.20 L220.93 275.30 L219.13 277.40 L217.33 275.30 Z" fill="#2a8fd8"/>
<text x="18.3" y="286.91" font-size="6.65" fill="#2a2a2a" stroke="#2a2a2a" stroke-width="0.15">FMR1</text>
<text x="66" y="286.91" font-size="6.65" text-anchor="middle" fill="#2a2a2a" stroke="#2a2a2a" stroke-width="0.15">&lt;0.001</text>
<text x="92.8" y="286.91" font-size="6.65" text-anchor="middle" fill="#2a2a2a" stroke="#2a2a2a" stroke-width="0.15">0.466</text>
<text x="129" y="286.91" font-size="6.65" text-anchor="middle" fill="#2a2a2a" stroke="#2a2a2a" stroke-width="0.15">0.351 - 0.619</text>
<line x1="221.30" x2="229.00" y1="284.41" y2="284.41" stroke="#111" stroke-width="1.25"/>
<path d="M225.14 282.31 L226.94 284.41 L225.14 286.51 L223.34 284.41 Z" fill="#2a8fd8"/>
<text x="18.3" y="296.03" font-size="6.65" fill="#2a2a2a" stroke="#2a2a2a" stroke-width="0.15">RBM15B</text>
<text x="66" y="296.03" font-size="6.65" text-anchor="middle" fill="#2a2a2a" stroke="#2a2a2a" stroke-width="0.15">&lt;0.001</text>
<text x="92.8" y="296.03" font-size="6.65" text-anchor="middle" fill="#2a2a2a" stroke="#2a2a2a" stroke-width="0.15">0.541</text>
<text x="129" y="296.03" font-size="6.65" text-anchor="middle" fill="#2a2a2a" stroke="#2a2a2a" stroke-width="0.15">0.432 - 0.678</text>
<line x1="224.12" x2="230.23" y1="293.53" y2="293.53" stroke="#111" stroke-width="1.25"/>
<path d="M227.17 291.43 L228.97 293.53 L227.17 295.63 L225.37 293.53 Z" fill="#2a8fd8"/>
<text x="18.3" y="305.14" font-size="6.65" fill="#2a2a2a" stroke="#2a2a2a" stroke-width="0.15">FTO</text>
<text x="66" y="305.14" font-size="6.65" text-anchor="middle" fill="#2a2a2a" stroke="#2a2a2a" stroke-width="0.15">&lt;0.001</text>
<text x="92.8" y="305.14" font-size="6.65" text-anchor="middle" fill="#2a2a2a" stroke="#2a2a2a" stroke-width="0.15">0.553</text>
<text x="129" y="305.14" font-size="6.65" text-anchor="middle" fill="#2a2a2a" stroke="#2a2a2a" stroke-width="0.15">0.436 - 0.702</text>
<line x1="224.24" x2="230.70" y1="302.64" y2="302.64" stroke="#111" stroke-width="1.25"/>
<path d="M227.47 300.54 L229.27 302.64 L227.47 304.74 L225.67 302.64 Z" fill="#2a8fd8"/>
<text x="18.3" y="314.26" font-size="6.65" fill="#2a2a2a" stroke="#2a2a2a" stroke-width="0.15">ALKBH5</text>
<text x="66" y="314.26" font-size="6.65" text-anchor="middle" fill="#2a2a2a" stroke="#2a2a2a" stroke-width="0.15">&lt;0.001</text>
<text x="92.8" y="314.26" font-size="6.65" text-anchor="middle" fill="#2a2a2a" stroke="#2a2a2a" stroke-width="0.15">0.593</text>
<text x="129" y="314.26" font-size="6.65" text-anchor="middle" fill="#2a2a2a" stroke="#2a2a2a" stroke-width="0.15">0.480 - 0.733</text>
<line x1="225.55" x2="231.29" y1="311.76" y2="311.76" stroke="#111" stroke-width="1.25"/>
<path d="M228.41 309.66 L230.21 311.76 L228.41 313.86 L226.61 311.76 Z" fill="#2a8fd8"/>
<text x="18.3" y="323.38" font-size="6.65" fill="#2a2a2a" stroke="#2a2a2a" stroke-width="0.15">ELAVL1</text>
<text x="66" y="323.38" font-size="6.65" text-anchor="middle" fill="#2a2a2a" stroke="#2a2a2a" stroke-width="0.15">&lt;0.001</text>
<text x="92.8" y="323.38" font-size="6.65" text-anchor="middle" fill="#2a2a2a" stroke="#2a2a2a" stroke-width="0.15">0.628</text>
<text x="129" y="323.38" font-size="6.65" text-anchor="middle" fill="#2a2a2a" stroke="#2a2a2a" stroke-width="0.15">0.496 - 0.795</text>
<line x1="225.99" x2="232.39" y1="320.88" y2="320.88" stroke="#111" stroke-width="1.25"/>
<path d="M229.19 318.78 L230.99 320.88 L229.19 322.98 L227.39 320.88 Z" fill="#2a8fd8"/>
<text x="18.3" y="332.49" font-size="6.65" fill="#2a2a2a" stroke="#2a2a2a" stroke-width="0.15">RBMX</text>
<text x="66" y="332.49" font-size="6.65" text-anchor="middle" fill="#2a2a2a" stroke="#2a2a2a" stroke-width="0.15">&lt;0.001</text>
<text x="92.8" y="332.49" font-size="6.65" text-anchor="middle" fill="#2a2a2a" stroke="#2a2a2a" stroke-width="0.15">0.660</text>
<text x="129" y="332.49" font-size="6.65" text-anchor="middle" fill="#2a2a2a" stroke="#2a2a2a" stroke-width="0.15">0.568 - 0.767</text>
<line x1="227.83" x2="231.90" y1="329.99" y2="329.99" stroke="#111" stroke-width="1.25"/>
<path d="M229.87 327.89 L231.67 329.99 L229.87 332.09 L228.07 329.99 Z" fill="#2a8fd8"/>
<text x="18.3" y="341.61" font-size="6.65" fill="#2a2a2a" stroke="#2a2a2a" stroke-width="0.15">WTAP</text>
<text x="66" y="341.61" font-size="6.65" text-anchor="middle" fill="#2a2a2a" stroke="#2a2a2a" stroke-width="0.15">0.020</text>
<text x="92.8" y="341.61" font-size="6.65" text-anchor="middle" fill="#2a2a2a" stroke="#2a2a2a" stroke-width="0.15">0.745</text>
<text x="129" y="341.61" font-size="6.65" text-anchor="middle" fill="#2a2a2a" stroke="#2a2a2a" stroke-width="0.15">0.582 - 0.955</text>
<line x1="228.16" x2="234.88" y1="339.11" y2="339.11" stroke="#111" stroke-width="1.25"/>
<path d="M231.51 337.01 L233.31 339.11 L231.51 341.21 L229.71 339.11 Z" fill="#2a8fd8"/>
<text x="18.3" y="350.72" font-size="6.65" fill="#2a2a2a" stroke="#2a2a2a" stroke-width="0.15">VIRMA</text>
<text x="66" y="350.72" font-size="6.65" text-anchor="middle" fill="#2a2a2a" stroke="#2a2a2a" stroke-width="0.15">0.016</text>
<text x="92.8" y="350.72" font-size="6.65" text-anchor="middle" fill="#2a2a2a" stroke="#2a2a2a" stroke-width="0.15">0.791</text>
<text x="129" y="350.72" font-size="6.65" text-anchor="middle" fill="#2a2a2a" stroke="#2a2a2a" stroke-width="0.15">0.655 - 0.957</text>
<line x1="229.76" x2="234.90" y1="348.22" y2="348.22" stroke="#111" stroke-width="1.25"/>
<path d="M232.32 346.12 L234.12 348.22 L232.32 350.32 L230.52 348.22 Z" fill="#2a8fd8"/>
<text x="18.3" y="359.84" font-size="6.65" fill="#2a2a2a" stroke="#2a2a2a" stroke-width="0.15">HNRNPC</text>
<text x="66" y="359.84" font-size="6.65" text-anchor="middle" fill="#2a2a2a" stroke="#2a2a2a" stroke-width="0.15">&lt;0.001</text>
<text x="92.8" y="359.84" font-size="6.65" text-anchor="middle" fill="#2a2a2a" stroke="#2a2a2a" stroke-width="0.15">0.794</text>
<text x="129" y="359.84" font-size="6.65" text-anchor="middle" fill="#2a2a2a" stroke="#2a2a2a" stroke-width="0.15">0.718 - 0.877</text>
<line x1="231.01" x2="233.72" y1="357.34" y2="357.34" stroke="#111" stroke-width="1.25"/>
<path d="M232.37 355.24 L234.17 357.34 L232.37 359.44 L230.57 357.34 Z" fill="#2a8fd8"/>
<text x="18.3" y="368.96" font-size="6.65" fill="#2a2a2a" stroke="#2a2a2a" stroke-width="0.15">IGF2BP2</text>
<text x="66" y="368.96" font-size="6.65" text-anchor="middle" fill="#2a2a2a" stroke="#2a2a2a" stroke-width="0.15">&lt;0.001</text>
<text x="92.8" y="368.96" font-size="6.65" text-anchor="middle" fill="#2a2a2a" stroke="#2a2a2a" stroke-width="0.15">2.260</text>
<text x="129" y="368.96" font-size="6.65" text-anchor="middle" fill="#2a2a2a" stroke="#2a2a2a" stroke-width="0.15">1.950 - 2.630</text>
<line x1="244.56" x2="248.61" y1="366.46" y2="366.46" stroke="#111" stroke-width="1.25"/>
<path d="M246.56 364.36 L248.36 366.46 L246.56 368.56 L244.76 366.46 Z" fill="#2a8fd8"/>
<text x="18.3" y="378.07" font-size="6.65" fill="#2a2a2a" stroke="#2a2a2a" stroke-width="0.15">IGF2BP1</text>
<text x="66" y="378.07" font-size="6.65" text-anchor="middle" fill="#2a2a2a" stroke="#2a2a2a" stroke-width="0.15">&lt;0.001</text>
<text x="92.8" y="378.07" font-size="6.65" text-anchor="middle" fill="#2a2a2a" stroke="#2a2a2a" stroke-width="0.15">3.570</text>
<text x="129" y="378.07" font-size="6.65" text-anchor="middle" fill="#2a2a2a" stroke="#2a2a2a" stroke-width="0.15">2.840 - 4.490</text>
<line x1="249.66" x2="255.87" y1="375.57" y2="375.57" stroke="#111" stroke-width="1.25"/>
<path d="M252.76 373.47 L254.56 375.57 L252.76 377.67 L250.96 375.57 Z" fill="#2a8fd8"/>
<text x="18.3" y="387.19" font-size="6.65" fill="#2a2a2a" stroke="#2a2a2a" stroke-width="0.15">IGF2BP3</text>
<text x="66" y="387.19" font-size="6.65" text-anchor="middle" fill="#2a2a2a" stroke="#2a2a2a" stroke-width="0.15">&lt;0.001</text>
<text x="92.8" y="387.19" font-size="6.65" text-anchor="middle" fill="#2a2a2a" stroke="#2a2a2a" stroke-width="0.15">3.910</text>
<text x="129" y="387.19" font-size="6.65" text-anchor="middle" fill="#2a2a2a" stroke="#2a2a2a" stroke-width="0.15">3.240 - 4.730</text>
<line x1="251.44" x2="256.57" y1="384.69" y2="384.69" stroke="#111" stroke-width="1.25"/>
<path d="M253.99 382.59 L255.79 384.69 L253.99 386.79 L252.19 384.69 Z" fill="#2a8fd8"/>
<text x="18.3" y="396.30" font-size="6.65" fill="#2a2a2a" stroke="#2a2a2a" stroke-width="0.15">RBM15</text>
<text x="66" y="396.30" font-size="6.65" text-anchor="middle" fill="#2a2a2a" stroke="#2a2a2a" stroke-width="0.15">&lt;0.001</text>
<text x="92.8" y="396.30" font-size="6.65" text-anchor="middle" fill="#2a2a2a" stroke="#2a2a2a" stroke-width="0.15">18.700</text>
<text x="129" y="396.30" font-size="6.65" text-anchor="middle" fill="#2a2a2a" stroke="#2a2a2a" stroke-width="0.15">6.120 - 57.100</text>
<line x1="260.07" x2="290.35" y1="393.80" y2="393.80" stroke="#111" stroke-width="1.25"/>
<path d="M275.21 391.70 L277.01 393.80 L275.21 395.90 L273.41 393.80 Z" fill="#2a8fd8"/>
<line x1="235.4" x2="235.4" y1="215.9" y2="397.7" stroke="#777" stroke-width="0.8"/>
<line x1="159.9" x2="282.6" y1="397.7" y2="397.7" stroke="#222" stroke-width="1.1"/>
<line x1="160.20" x2="160.20" y1="397.7" y2="401.5" stroke="#222" stroke-width="0.9"/>
<line x1="169.61" x2="169.61" y1="397.7" y2="401.5" stroke="#222" stroke-width="0.9"/>
<line x1="179.03" x2="179.03" y1="397.7" y2="401.5" stroke="#222" stroke-width="0.9"/>
<line x1="188.44" x2="188.44" y1="397.7" y2="401.5" stroke="#222" stroke-width="0.9"/>
<line x1="197.85" x2="197.85" y1="397.7" y2="401.5" stroke="#222" stroke-width="0.9"/>
<line x1="207.26" x2="207.26" y1="397.7" y2="401.5" stroke="#222" stroke-width="0.9"/>
<line x1="216.68" x2="216.68" y1="397.7" y2="401.5" stroke="#222" stroke-width="0.9"/>
<line x1="226.09" x2="226.09" y1="397.7" y2="401.5" stroke="#222" stroke-width="0.9"/>
<line x1="235.50" x2="235.50" y1="397.7" y2="401.5" stroke="#222" stroke-width="0.9"/>
<line x1="244.92" x2="244.92" y1="397.7" y2="401.5" stroke="#222" stroke-width="0.9"/>
<line x1="254.33" x2="254.33" y1="397.7" y2="401.5" stroke="#222" stroke-width="0.9"/>
<line x1="263.74" x2="263.74" y1="397.7" y2="401.5" stroke="#222" stroke-width="0.9"/>
<line x1="273.16" x2="273.16" y1="397.7" y2="401.5" stroke="#222" stroke-width="0.9"/>
<line x1="282.57" x2="282.57" y1="397.7" y2="401.5" stroke="#222" stroke-width="0.9"/>
<text x="160.80" y="410.6" font-size="5.8" text-anchor="middle" fill="#222" stroke="#222" stroke-width="0.1">0.004</text>
<text x="179.63" y="410.6" font-size="5.8" text-anchor="middle" fill="#222" stroke="#222" stroke-width="0.1">0.016</text>
<text x="198.45" y="410.6" font-size="5.8" text-anchor="middle" fill="#222" stroke="#222" stroke-width="0.1">0.062</text>
<text x="217.28" y="410.6" font-size="5.8" text-anchor="middle" fill="#222" stroke="#222" stroke-width="0.1">0.250</text>
<text x="236.10" y="410.6" font-size="5.8" text-anchor="middle" fill="#222" stroke="#222" stroke-width="0.1">1.000</text>
<text x="254.93" y="410.6" font-size="5.8" text-anchor="middle" fill="#222" stroke="#222" stroke-width="0.1">4.000</text>
<text x="277.4" y="410.6" font-size="5.8" text-anchor="middle" fill="#222" stroke="#222" stroke-width="0.1">20.000</text>
</g>
<g id="C">
<text x="297.0" y="205" font-size="15.0" transform="translate(297.0 0) scale(0.8 1) translate(-297.0 0)" fill="#000" stroke="#000" stroke-width="0.4">C</text>
<rect x="339.20" y="226.40" width="9.54" height="9.55" fill="#072f66"/>
<rect x="348.33" y="226.40" width="9.54" height="9.55" fill="#4495d5"/>
<rect x="357.47" y="226.40" width="9.54" height="9.55" fill="#4191d2"/>
<rect x="366.61" y="226.40" width="9.54" height="9.55" fill="#69acde"/>
<rect x="375.74" y="226.40" width="9.54" height="9.55" fill="#4495d5"/>
<rect x="384.88" y="226.40" width="9.54" height="9.55" fill="#56a0d9"/>
<rect x="394.01" y="226.40" width="9.54" height="9.55" fill="#e7f2f9"/>
<rect x="403.14" y="226.40" width="9.54" height="9.55" fill="#ffffff"/>
<rect x="412.28" y="226.40" width="9.54" height="9.55" fill="#e7f2f9"/>
<rect x="421.41" y="226.40" width="9.54" height="9.55" fill="#4495d5"/>
<rect x="430.55" y="226.40" width="9.54" height="9.55" fill="#3380c8"/>
<rect x="439.69" y="226.40" width="9.54" height="9.55" fill="#56a0d9"/>
<rect x="448.82" y="226.40" width="9.54" height="9.55" fill="#69acde"/>
<rect x="457.95" y="226.40" width="9.54" height="9.55" fill="#4495d5"/>
<rect x="467.09" y="226.40" width="9.54" height="9.55" fill="#4495d5"/>
<rect x="476.23" y="226.40" width="9.54" height="9.55" fill="#56a0d9"/>
<rect x="485.36" y="226.40" width="9.54" height="9.55" fill="#69acde"/>
<rect x="494.50" y="226.40" width="9.54" height="9.55" fill="#3c8bcf"/>
<rect x="503.63" y="226.40" width="9.54" height="9.55" fill="#4495d5"/>
<rect x="512.76" y="226.40" width="9.54" height="9.55" fill="#56a0d9"/>
<rect x="348.33" y="235.56" width="9.54" height="9.55" fill="#072f66"/>
<rect x="357.47" y="235.56" width="9.54" height="9.55" fill="#3380c8"/>
<rect x="366.61" y="235.56" width="9.54" height="9.55" fill="#4b9ad7"/>
<rect x="375.74" y="235.56" width="9.54" height="9.55" fill="#4495d5"/>
<rect x="384.88" y="235.56" width="9.54" height="9.55" fill="#4495d5"/>
<rect x="394.01" y="235.56" width="9.54" height="9.55" fill="#e7f2f9"/>
<rect x="403.14" y="235.56" width="9.54" height="9.55" fill="#ffffff"/>
<rect x="412.28" y="235.56" width="9.54" height="9.55" fill="#e7f2f9"/>
<rect x="421.41" y="235.56" width="9.54" height="9.55" fill="#2a76c2"/>
<rect x="430.55" y="235.56" width="9.54" height="9.55" fill="#4495d5"/>
<rect x="439.69" y="235.56" width="9.54" height="9.55" fill="#4495d5"/>
<rect x="448.82" y="235.56" width="9.54" height="9.55" fill="#4495d5"/>
<rect x="457.95" y="235.56" width="9.54" height="9.55" fill="#56a0d9"/>
<rect x="467.09" y="235.56" width="9.54" height="9.55" fill="#4495d5"/>
<rect x="476.23" y="235.56" width="9.54" height="9.55" fill="#3380c8"/>
<rect x="485.36" y="235.56" width="9.54" height="9.55" fill="#4495d5"/>
<rect x="494.50" y="235.56" width="9.54" height="9.55" fill="#3380c8"/>
<rect x="503.63" y="235.56" width="9.54" height="9.55" fill="#4495d5"/>
<rect x="512.76" y="235.56" width="9.54" height="9.55" fill="#4495d5"/>
<rect x="357.47" y="244.71" width="9.54" height="9.55" fill="#072f66"/>
<rect x="366.61" y="244.71" width="9.54" height="9.55" fill="#4495d5"/>
<rect x="375.74" y="244.71" width="9.54" height="9.55" fill="#74b3e0"/>
<rect x="384.88" y="244.71" width="9.54" height="9.55" fill="#2772c0"/>
<rect x="394.01" y="244.71" width="9.54" height="9.55" fill="#e2eff8"/>
<rect x="403.14" y="244.71" width="9.54" height="9.55" fill="#e7f2f9"/>
<rect x="412.28" y="244.71" width="9.54" height="9.55" fill="#e2eff8"/>
<rect x="421.41" y="244.71" width="9.54" height="9.55" fill="#4495d5"/>
<rect x="430.55" y="244.71" width="9.54" height="9.55" fill="#4495d5"/>
<rect x="439.69" y="244.71" width="9.54" height="9.55" fill="#3c8bcf"/>
<rect x="448.82" y="244.71" width="9.54" height="9.55" fill="#4495d5"/>
<rect x="457.95" y="244.71" width="9.54" height="9.55" fill="#2a76c2"/>
<rect x="467.09" y="244.71" width="9.54" height="9.55" fill="#2a76c2"/>
<rect x="476.23" y="244.71" width="9.54" height="9.55" fill="#4495d5"/>
<rect x="485.36" y="244.71" width="9.54" height="9.55" fill="#4495d5"/>
<rect x="494.50" y="244.71" width="9.54" height="9.55" fill="#3380c8"/>
<rect x="503.63" y="244.71" width="9.54" height="9.55" fill="#4495d5"/>
<rect x="512.76" y="244.71" width="9.54" height="9.55" fill="#4495d5"/>
<rect x="366.61" y="253.87" width="9.54" height="9.55" fill="#072f66"/>
<rect x="375.74" y="253.87" width="9.54" height="9.55" fill="#69acde"/>
<rect x="384.88" y="253.87" width="9.54" height="9.55" fill="#56a0d9"/>
<rect x="394.01" y="253.87" width="9.54" height="9.55" fill="#dbebf6"/>
<rect x="403.14" y="253.87" width="9.54" height="9.55" fill="#e7f2f9"/>
<rect x="412.28" y="253.87" width="9.54" height="9.55" fill="#e2eff8"/>
<rect x="421.41" y="253.87" width="9.54" height="9.55" fill="#4495d5"/>
<rect x="430.55" y="253.87" width="9.54" height="9.55" fill="#56a0d9"/>
<rect x="439.69" y="253.87" width="9.54" height="9.55" fill="#69acde"/>
<rect x="448.82" y="253.87" width="9.54" height="9.55" fill="#69acde"/>
<rect x="457.95" y="253.87" width="9.54" height="9.55" fill="#4495d5"/>
<rect x="467.09" y="253.87" width="9.54" height="9.55" fill="#3380c8"/>
<rect x="476.23" y="253.87" width="9.54" height="9.55" fill="#4495d5"/>
<rect x="485.36" y="253.87" width="9.54" height="9.55" fill="#4495d5"/>
<rect x="494.50" y="253.87" width="9.54" height="9.55" fill="#3380c8"/>
<rect x="503.63" y="253.87" width="9.54" height="9.55" fill="#4495d5"/>
<rect x="512.76" y="253.87" width="9.54" height="9.55" fill="#4495d5"/>
<rect x="375.74" y="263.02" width="9.54" height="9.55" fill="#072f66"/>
<rect x="384.88" y="263.02" width="9.54" height="9.55" fill="#87bee4"/>
<rect x="394.01" y="263.02" width="9.54" height="9.55" fill="#e2eff8"/>
<rect x="403.14" y="263.02" width="9.54" height="9.55" fill="#fff8f4"/>
<rect x="412.28" y="263.02" width="9.54" height="9.55" fill="#ffffff"/>
<rect x="421.41" y="263.02" width="9.54" height="9.55" fill="#4495d5"/>
<rect x="430.55" y="263.02" width="9.54" height="9.55" fill="#56a0d9"/>
<rect x="439.69" y="263.02" width="9.54" height="9.55" fill="#9ecbe9"/>
<rect x="448.82" y="263.02" width="9.54" height="9.55" fill="#8ec3e6"/>
<rect x="457.95" y="263.02" width="9.54" height="9.55" fill="#87bee4"/>
<rect x="467.09" y="263.02" width="9.54" height="9.55" fill="#4495d5"/>
<rect x="476.23" y="263.02" width="9.54" height="9.55" fill="#56a0d9"/>
<rect x="485.36" y="263.02" width="9.54" height="9.55" fill="#8ec3e6"/>
<rect x="494.50" y="263.02" width="9.54" height="9.55" fill="#3c8bcf"/>
<rect x="503.63" y="263.02" width="9.54" height="9.55" fill="#56a0d9"/>
<rect x="512.76" y="263.02" width="9.54" height="9.55" fill="#56a0d9"/>
<rect x="384.88" y="272.18" width="9.54" height="9.55" fill="#072f66"/>
<rect x="394.01" y="272.18" width="9.54" height="9.55" fill="#dbebf6"/>
<rect x="403.14" y="272.18" width="9.54" height="9.55" fill="#e7f2f9"/>
<rect x="412.28" y="272.18" width="9.54" height="9.55" fill="#dbebf6"/>
<rect x="421.41" y="272.18" width="9.54" height="9.55" fill="#4495d5"/>
<rect x="430.55" y="272.18" width="9.54" height="9.55" fill="#3c8bcf"/>
<rect x="439.69" y="272.18" width="9.54" height="9.55" fill="#3380c8"/>
<rect x="448.82" y="272.18" width="9.54" height="9.55" fill="#4495d5"/>
<rect x="457.95" y="272.18" width="9.54" height="9.55" fill="#3c8bcf"/>
<rect x="467.09" y="272.18" width="9.54" height="9.55" fill="#226cbc"/>
<rect x="476.23" y="272.18" width="9.54" height="9.55" fill="#3380c8"/>
<rect x="485.36" y="272.18" width="9.54" height="9.55" fill="#3c8bcf"/>
<rect x="494.50" y="272.18" width="9.54" height="9.55" fill="#3380c8"/>
<rect x="503.63" y="272.18" width="9.54" height="9.55" fill="#4495d5"/>
<rect x="512.76" y="272.18" width="9.54" height="9.55" fill="#56a0d9"/>
<rect x="394.01" y="281.33" width="9.54" height="9.55" fill="#072f66"/>
<rect x="403.14" y="281.33" width="9.54" height="9.55" fill="#8ec3e6"/>
<rect x="412.28" y="281.33" width="9.54" height="9.55" fill="#69acde"/>
<rect x="421.41" y="281.33" width="9.54" height="9.55" fill="#ffffff"/>
<rect x="430.55" y="281.33" width="9.54" height="9.55" fill="#f5fafd"/>
<rect x="439.69" y="281.33" width="9.54" height="9.55" fill="#f8fbfd"/>
<rect x="448.82" y="281.33" width="9.54" height="9.55" fill="#c8e1f2"/>
<rect x="457.95" y="281.33" width="9.54" height="9.55" fill="#ffffff"/>
<rect x="467.09" y="281.33" width="9.54" height="9.55" fill="#f1f7fb"/>
<rect x="476.23" y="281.33" width="9.54" height="9.55" fill="#f1f7fb"/>
<rect x="485.36" y="281.33" width="9.54" height="9.55" fill="#f1f7fb"/>
<rect x="494.50" y="281.33" width="9.54" height="9.55" fill="#f1f7fb"/>
<rect x="503.63" y="281.33" width="9.54" height="9.55" fill="#f1f7fb"/>
<rect x="512.76" y="281.33" width="9.54" height="9.55" fill="#f1f7fb"/>
<rect x="403.14" y="290.49" width="9.54" height="9.55" fill="#072f66"/>
<rect x="412.28" y="290.49" width="9.54" height="9.55" fill="#69acde"/>
<rect x="421.41" y="290.49" width="9.54" height="9.55" fill="#f8fbfd"/>
<rect x="430.55" y="290.49" width="9.54" height="9.55" fill="#f8fbfd"/>
<rect x="439.69" y="290.49" width="9.54" height="9.55" fill="#ffffff"/>
<rect x="448.82" y="290.49" width="9.54" height="9.55" fill="#bfdcf0"/>
<rect x="457.95" y="290.49" width="9.54" height="9.55" fill="#e7f2f9"/>
<rect x="467.09" y="290.49" width="9.54" height="9.55" fill="#e7f2f9"/>
<rect x="476.23" y="290.49" width="9.54" height="9.55" fill="#ecf4fa"/>
<rect x="485.36" y="290.49" width="9.54" height="9.55" fill="#e7f2f9"/>
<rect x="494.50" y="290.49" width="9.54" height="9.55" fill="#ffffff"/>
<rect x="503.63" y="290.49" width="9.54" height="9.55" fill="#fef1e9"/>
<rect x="512.76" y="290.49" width="9.54" height="9.55" fill="#f5fafd"/>
<rect x="412.28" y="299.64" width="9.54" height="9.55" fill="#072f66"/>
<rect x="421.41" y="299.64" width="9.54" height="9.55" fill="#ffffff"/>
<rect x="430.55" y="299.64" width="9.54" height="9.55" fill="#ffffff"/>
<rect x="439.69" y="299.64" width="9.54" height="9.55" fill="#ffffff"/>
<rect x="448.82" y="299.64" width="9.54" height="9.55" fill="#bfdcf0"/>
<rect x="457.95" y="299.64" width="9.54" height="9.55" fill="#f3f8fc"/>
<rect x="467.09" y="299.64" width="9.54" height="9.55" fill="#e7f2f9"/>
<rect x="476.23" y="299.64" width="9.54" height="9.55" fill="#e7f2f9"/>
<rect x="485.36" y="299.64" width="9.54" height="9.55" fill="#e7f2f9"/>
<rect x="494.50" y="299.64" width="9.54" height="9.55" fill="#ffffff"/>
<rect x="503.63" y="299.64" width="9.54" height="9.55" fill="#ffffff"/>
<rect x="512.76" y="299.64" width="9.54" height="9.55" fill="#e7f2f9"/>
<rect x="421.41" y="308.80" width="9.54" height="9.55" fill="#072f66"/>
<rect x="430.55" y="308.80" width="9.54" height="9.55" fill="#3380c8"/>
<rect x="439.69" y="308.80" width="9.54" height="9.55" fill="#2a76c2"/>
<rect x="448.82" y="308.80" width="9.54" height="9.55" fill="#3c8bcf"/>
<rect x="457.95" y="308.80" width="9.54" height="9.55" fill="#3380c8"/>
<rect x="467.09" y="308.80" width="9.54" height="9.55" fill="#2a76c2"/>
<rect x="476.23" y="308.80" width="9.54" height="9.55" fill="#3380c8"/>
<rect x="485.36" y="308.80" width="9.54" height="9.55" fill="#3c8bcf"/>
<rect x="494.50" y="308.80" width="9.54" height="9.55" fill="#226cbc"/>
<rect x="503.63" y="308.80" width="9.54" height="9.55" fill="#2a76c2"/>
<rect x="512.76" y="308.80" width="9.54" height="9.55" fill="#3380c8"/>
<rect x="430.55" y="317.95" width="9.54" height="9.55" fill="#072f66"/>
<rect x="439.69" y="317.95" width="9.54" height="9.55" fill="#3380c8"/>
<rect x="448.82" y="317.95" width="9.54" height="9.55" fill="#4495d5"/>
<rect x="457.95" y="317.95" width="9.54" height="9.55" fill="#3c8bcf"/>
<rect x="467.09" y="317.95" width="9.54" height="9.55" fill="#3380c8"/>
<rect x="476.23" y="317.95" width="9.54" height="9.55" fill="#3c8bcf"/>
<rect x="485.36" y="317.95" width="9.54" height="9.55" fill="#4495d5"/>
<rect x="494.50" y="317.95" width="9.54" height="9.55" fill="#2a76c2"/>
<rect x="503.63" y="317.95" width="9.54" height="9.55" fill="#3380c8"/>
<rect x="512.76" y="317.95" width="9.54" height="9.55" fill="#3c8bcf"/>
<rect x="439.69" y="327.11" width="9.54" height="9.55" fill="#072f66"/>
<rect x="448.82" y="327.11" width="9.54" height="9.55" fill="#56a0d9"/>
<rect x="457.95" y="327.11" width="9.54" height="9.55" fill="#3c8bcf"/>
<rect x="467.09" y="327.11" width="9.54" height="9.55" fill="#2a76c2"/>
<rect x="476.23" y="327.11" width="9.54" height="9.55" fill="#3c8bcf"/>
<rect x="485.36" y="327.11" width="9.54" height="9.55" fill="#4495d5"/>
<rect x="494.50" y="327.11" width="9.54" height="9.55" fill="#3380c8"/>
<rect x="503.63" y="327.11" width="9.54" height="9.55" fill="#3c8bcf"/>
<rect x="512.76" y="327.11" width="9.54" height="9.55" fill="#4495d5"/>
<rect x="448.82" y="336.26" width="9.54" height="9.55" fill="#072f66"/>
<rect x="457.95" y="336.26" width="9.54" height="9.55" fill="#3c8bcf"/>
<rect x="467.09" y="336.26" width="9.54" height="9.55" fill="#3c8bcf"/>
<rect x="476.23" y="336.26" width="9.54" height="9.55" fill="#4495d5"/>
<rect x="485.36" y="336.26" width="9.54" height="9.55" fill="#3c8bcf"/>
<rect x="494.50" y="336.26" width="9.54" height="9.55" fill="#3380c8"/>
<rect x="503.63" y="336.26" width="9.54" height="9.55" fill="#3c8bcf"/>
<rect x="512.76" y="336.26" width="9.54" height="9.55" fill="#4495d5"/>
<rect x="457.95" y="345.41" width="9.54" height="9.55" fill="#072f66"/>
<rect x="467.09" y="345.41" width="9.54" height="9.55" fill="#3c8bcf"/>
<rect x="476.23" y="345.41" width="9.54" height="9.55" fill="#4495d5"/>
<rect x="485.36" y="345.41" width="9.54" height="9.55" fill="#4495d5"/>
<rect x="494.50" y="345.41" width="9.54" height="9.55" fill="#3380c8"/>
<rect x="503.63" y="345.41" width="9.54" height="9.55" fill="#3380c8"/>
<rect x="512.76" y="345.41" width="9.54" height="9.55" fill="#4495d5"/>
<rect x="467.09" y="354.57" width="9.54" height="9.55" fill="#072f66"/>
<rect x="476.23" y="354.57" width="9.54" height="9.55" fill="#4495d5"/>
<rect x="485.36" y="354.57" width="9.54" height="9.55" fill="#4495d5"/>
<rect x="494.50" y="354.57" width="9.54" height="9.55" fill="#2a76c2"/>
<rect x="503.63" y="354.57" width="9.54" height="9.55" fill="#3c8bcf"/>
<rect x="512.76" y="354.57" width="9.54" height="9.55" fill="#4495d5"/>
<rect x="476.23" y="363.73" width="9.54" height="9.55" fill="#072f66"/>
<rect x="485.36" y="363.73" width="9.54" height="9.55" fill="#56a0d9"/>
<rect x="494.50" y="363.73" width="9.54" height="9.55" fill="#3380c8"/>
<rect x="503.63" y="363.73" width="9.54" height="9.55" fill="#3c8bcf"/>
<rect x="512.76" y="363.73" width="9.54" height="9.55" fill="#4495d5"/>
<rect x="485.36" y="372.88" width="9.54" height="9.55" fill="#072f66"/>
<rect x="494.50" y="372.88" width="9.54" height="9.55" fill="#3380c8"/>
<rect x="503.63" y="372.88" width="9.54" height="9.55" fill="#3c8bcf"/>
<rect x="512.76" y="372.88" width="9.54" height="9.55" fill="#4495d5"/>
<rect x="494.50" y="382.03" width="9.54" height="9.55" fill="#072f66"/>
<rect x="503.63" y="382.03" width="9.54" height="9.55" fill="#2a76c2"/>
<rect x="512.76" y="382.03" width="9.54" height="9.55" fill="#3c8bcf"/>
<rect x="503.63" y="391.19" width="9.54" height="9.55" fill="#072f66"/>
<rect x="512.76" y="391.19" width="9.54" height="9.55" fill="#3c8bcf"/>
<rect x="512.76" y="400.35" width="9.54" height="9.55" fill="#072f66"/>
<rect x="339.20" y="235.56" width="9.13" height="9.15" fill="none" stroke="#e2e2e2" stroke-width="0.45"/>
<rect x="339.20" y="244.71" width="9.13" height="9.15" fill="none" stroke="#e2e2e2" stroke-width="0.45"/>
<rect x="348.33" y="244.71" width="9.13" height="9.15" fill="none" stroke="#e2e2e2" stroke-width="0.45"/>
<rect x="339.20" y="253.87" width="9.13" height="9.15" fill="none" stroke="#e2e2e2" stroke-width="0.45"/>
<rect x="348.33" y="253.87" width="9.13" height="9.15" fill="none" stroke="#e2e2e2" stroke-width="0.45"/>
<rect x="357.47" y="253.87" width="9.13" height="9.15" fill="none" stroke="#e2e2e2" stroke-width="0.45"/>
<rect x="339.20" y="263.02" width="9.13" height="9.15" fill="none" stroke="#e2e2e2" stroke-width="0.45"/>
<rect x="348.33" y="263.02" width="9.13" height="9.15" fill="none" stroke="#e2e2e2" stroke-width="0.45"/>
<rect x="357.47" y="263.02" width="9.13" height="9.15" fill="none" stroke="#e2e2e2" stroke-width="0.45"/>
<rect x="366.61" y="263.02" width="9.13" height="9.15" fill="none" stroke="#e2e2e2" stroke-width="0.45"/>
<rect x="339.20" y="272.18" width="9.13" height="9.15" fill="none" stroke="#e2e2e2" stroke-width="0.45"/>
<rect x="348.33" y="272.18" width="9.13" height="9.15" fill="none" stroke="#e2e2e2" stroke-width="0.45"/>
<rect x="357.47" y="272.18" width="9.13" height="9.15" fill="none" stroke="#e2e2e2" stroke-width="0.45"/>
<rect x="366.61" y="272.18" width="9.13" height="9.15" fill="none" stroke="#e2e2e2" stroke-width="0.45"/>
<rect x="375.74" y="272.18" width="9.13" height="9.15" fill="none" stroke="#e2e2e2" stroke-width="0.45"/>
<rect x="339.20" y="281.33" width="9.13" height="9.15" fill="none" stroke="#e2e2e2" stroke-width="0.45"/>
<rect x="348.33" y="281.33" width="9.13" height="9.15" fill="none" stroke="#e2e2e2" stroke-width="0.45"/>
<rect x="357.47" y="281.33" width="9.13" height="9.15" fill="none" stroke="#e2e2e2" stroke-width="0.45"/>
<rect x="366.61" y="281.33" width="9.13" height="9.15" fill="none" stroke="#e2e2e2" stroke-width="0.45"/>
<rect x="375.74" y="281.33" width="9.13" height="9.15" fill="none" stroke="#e2e2e2" stroke-width="0.45"/>
<rect x="384.88" y="281.33" width="9.13" height="9.15" fill="none" stroke="#e2e2e2" stroke-width="0.45"/>
<rect x="339.20" y="290.49" width="9.13" height="9.15" fill="none" stroke="#e2e2e2" stroke-width="0.45"/>
<rect x="348.33" y="290.49" width="9.13" height="9.15" fill="none" stroke="#e2e2e2" stroke-width="0.45"/>
<rect x="357.47" y="290.49" width="9.13" height="9.15" fill="none" stroke="#e2e2e2" stroke-width="0.45"/>
<rect x="366.61" y="290.49" width="9.13" height="9.15" fill="none" stroke="#e2e2e2" stroke-width="0.45"/>
<rect x="375.74" y="290.49" width="9.13" height="9.15" fill="none" stroke="#e2e2e2" stroke-width="0.45"/>
<rect x="384.88" y="290.49" width="9.13" height="9.15" fill="none" stroke="#e2e2e2" stroke-width="0.45"/>
<rect x="394.01" y="290.49" width="9.13" height="9.15" fill="none" stroke="#e2e2e2" stroke-width="0.45"/>
<rect x="339.20" y="299.64" width="9.13" height="9.15" fill="none" stroke="#e2e2e2" stroke-width="0.45"/>
<rect x="348.33" y="299.64" width="9.13" height="9.15" fill="none" stroke="#e2e2e2" stroke-width="0.45"/>
<rect x="357.47" y="299.64" width="9.13" height="9.15" fill="none" stroke="#e2e2e2" stroke-width="0.45"/>
<rect x="366.61" y="299.64" width="9.13" height="9.15" fill="none" stroke="#e2e2e2" stroke-width="0.45"/>
<rect x="375.74" y="299.64" width="9.13" height="9.15" fill="none" stroke="#e2e2e2" stroke-width="0.45"/>
<rect x="384.88" y="299.64" width="9.13" height="9.15" fill="none" stroke="#e2e2e2" stroke-width="0.45"/>
<rect x="394.01" y="299.64" width="9.13" height="9.15" fill="none" stroke="#e2e2e2" stroke-width="0.45"/>
<rect x="403.14" y="299.64" width="9.13" height="9.15" fill="none" stroke="#e2e2e2" stroke-width="0.45"/>
<rect x="339.20" y="308.80" width="9.13" height="9.15" fill="none" stroke="#e2e2e2" stroke-width="0.45"/>
<rect x="348.33" y="308.80" width="9.13" height="9.15" fill="none" stroke="#e2e2e2" stroke-width="0.45"/>
<rect x="357.47" y="308.80" width="9.13" height="9.15" fill="none" stroke="#e2e2e2" stroke-width="0.45"/>
<rect x="366.61" y="308.80" width="9.13" height="9.15" fill="none" stroke="#e2e2e2" stroke-width="0.45"/>
<rect x="375.74" y="308.80" width="9.13" height="9.15" fill="none" stroke="#e2e2e2" stroke-width="0.45"/>
<rect x="384.88" y="308.80" width="9.13" height="9.15" fill="none" stroke="#e2e2e2" stroke-width="0.45"/>
<rect x="394.01" y="308.80" width="9.13" height="9.15" fill="none" stroke="#e2e2e2" stroke-width="0.45"/>
<rect x="403.14" y="308.80" width="9.13" height="9.15" fill="none" stroke="#e2e2e2" stroke-width="0.45"/>
<rect x="412.28" y="308.80" width="9.13" height="9.15" fill="none" stroke="#e2e2e2" stroke-width="0.45"/>
<rect x="339.20" y="317.95" width="9.13" height="9.15" fill="none" stroke="#e2e2e2" stroke-width="0.45"/>
<rect x="348.33" y="317.95" width="9.13" height="9.15" fill="none" stroke="#e2e2e2" stroke-width="0.45"/>
<rect x="357.47" y="317.95" width="9.13" height="9.15" fill="none" stroke="#e2e2e2" stroke-width="0.45"/>
<rect x="366.61" y="317.95" width="9.13" height="9.15" fill="none" stroke="#e2e2e2" stroke-width="0.45"/>
<rect x="375.74" y="317.95" width="9.13" height="9.15" fill="none" stroke="#e2e2e2" stroke-width="0.45"/>
<rect x="384.88" y="317.95" width="9.13" height="9.15" fill="none" stroke="#e2e2e2" stroke-width="0.45"/>
<rect x="394.01" y="317.95" width="9.13" height="9.15" fill="none" stroke="#e2e2e2" stroke-width="0.45"/>
<rect x="403.14" y="317.95" width="9.13" height="9.15" fill="none" stroke="#e2e2e2" stroke-width="0.45"/>
<rect x="412.28" y="317.95" width="9.13" height="9.15" fill="none" stroke="#e2e2e2" stroke-width="0.45"/>
<rect x="421.41" y="317.95" width="9.13" height="9.15" fill="none" stroke="#e2e2e2" stroke-width="0.45"/>
<rect x="339.20" y="327.11" width="9.13" height="9.15" fill="none" stroke="#e2e2e2" stroke-width="0.45"/>
<rect x="348.33" y="327.11" width="9.13" height="9.15" fill="none" stroke="#e2e2e2" stroke-width="0.45"/>
<rect x="357.47" y="327.11" width="9.13" height="9.15" fill="none" stroke="#e2e2e2" stroke-width="0.45"/>
<rect x="366.61" y="327.11" width="9.13" height="9.15" fill="none" stroke="#e2e2e2" stroke-width="0.45"/>
<rect x="375.74" y="327.11" width="9.13" height="9.15" fill="none" stroke="#e2e2e2" stroke-width="0.45"/>
<rect x="384.88" y="327.11" width="9.13" height="9.15" fill="none" stroke="#e2e2e2" stroke-width="0.45"/>
<rect x="394.01" y="327.11" width="9.13" height="9.15" fill="none" stroke="#e2e2e2" stroke-width="0.45"/>
<rect x="403.14" y="327.11" width="9.13" height="9.15" fill="none" stroke="#e2e2e2" stroke-width="0.45"/>
<rect x="412.28" y="327.11" width="9.13" height="9.15" fill="none" stroke="#e2e2e2" stroke-width="0.45"/>
<rect x="421.41" y="327.11" width="9.13" height="9.15" fill="none" stroke="#e2e2e2" stroke-width="0.45"/>
<rect x="430.55" y="327.11" width="9.13" height="9.15" fill="none" stroke="#e2e2e2" stroke-width="0.45"/>
<rect x="339.20" y="336.26" width="9.13" height="9.15" fill="none" stroke="#e2e2e2" stroke-width="0.45"/>
<rect x="348.33" y="336.26" width="9.13" height="9.15" fill="none" stroke="#e2e2e2" stroke-width="0.45"/>
<rect x="357.47" y="336.26" width="9.13" height="9.15" fill="none" stroke="#e2e2e2" stroke-width="0.45"/>
<rect x="366.61" y="336.26" width="9.13" height="9.15" fill="none" stroke="#e2e2e2" stroke-width="0.45"/>
<rect x="375.74" y="336.26" width="9.13" height="9.15" fill="none" stroke="#e2e2e2" stroke-width="0.45"/>
<rect x="384.88" y="336.26" width="9.13" height="9.15" fill="none" stroke="#e2e2e2" stroke-width="0.45"/>
<rect x="394.01" y="336.26" width="9.13" height="9.15" fill="none" stroke="#e2e2e2" stroke-width="0.45"/>
<rect x="403.14" y="336.26" width="9.13" height="9.15" fill="none" stroke="#e2e2e2" stroke-width="0.45"/>
<rect x="412.28" y="336.26" width="9.13" height="9.15" fill="none" stroke="#e2e2e2" stroke-width="0.45"/>
<rect x="421.41" y="336.26" width="9.13" height="9.15" fill="none" stroke="#e2e2e2" stroke-width="0.45"/>
<rect x="430.55" y="336.26" width="9.13" height="9.15" fill="none" stroke="#e2e2e2" stroke-width="0.45"/>
<rect x="439.69" y="336.26" width="9.13" height="9.15" fill="none" stroke="#e2e2e2" stroke-width="0.45"/>
<rect x="339.20" y="345.41" width="9.13" height="9.15" fill="none" stroke="#e2e2e2" stroke-width="0.45"/>
<rect x="348.33" y="345.41" width="9.13" height="9.15" fill="none" stroke="#e2e2e2" stroke-width="0.45"/>
<rect x="357.47" y="345.41" width="9.13" height="9.15" fill="none" stroke="#e2e2e2" stroke-width="0.45"/>
<rect x="366.61" y="345.41" width="9.13" height="9.15" fill="none" stroke="#e2e2e2" stroke-width="0.45"/>
<rect x="375.74" y="345.41" width="9.13" height="9.15" fill="none" stroke="#e2e2e2" stroke-width="0.45"/>
<rect x="384.88" y="345.41" width="9.13" height="9.15" fill="none" stroke="#e2e2e2" stroke-width="0.45"/>
<rect x="394.01" y="345.41" width="9.13" height="9.15" fill="none" stroke="#e2e2e2" stroke-width="0.45"/>
<rect x="403.14" y="345.41" width="9.13" height="9.15" fill="none" stroke="#e2e2e2" stroke-width="0.45"/>
<rect x="412.28" y="345.41" width="9.13" height="9.15" fill="none" stroke="#e2e2e2" stroke-width="0.45"/>
<rect x="421.41" y="345.41" width="9.13" height="9.15" fill="none" stroke="#e2e2e2" stroke-width="0.45"/>
<rect x="430.55" y="345.41" width="9.13" height="9.15" fill="none" stroke="#e2e2e2" stroke-width="0.45"/>
<rect x="439.69" y="345.41" width="9.13" height="9.15" fill="none" stroke="#e2e2e2" stroke-width="0.45"/>
<rect x="448.82" y="345.41" width="9.13" height="9.15" fill="none" stroke="#e2e2e2" stroke-width="0.45"/>
<rect x="339.20" y="354.57" width="9.13" height="9.15" fill="none" stroke="#e2e2e2" stroke-width="0.45"/>
<rect x="348.33" y="354.57" width="9.13" height="9.15" fill="none" stroke="#e2e2e2" stroke-width="0.45"/>
<rect x="357.47" y="354.57" width="9.13" height="9.15" fill="none" stroke="#e2e2e2" stroke-width="0.45"/>
<rect x="366.61" y="354.57" width="9.13" height="9.15" fill="none" stroke="#e2e2e2" stroke-width="0.45"/>
<rect x="375.74" y="354.57" width="9.13" height="9.15" fill="none" stroke="#e2e2e2" stroke-width="0.45"/>
<rect x="384.88" y="354.57" width="9.13" height="9.15" fill="none" stroke="#e2e2e2" stroke-width="0.45"/>
<rect x="394.01" y="354.57" width="9.13" height="9.15" fill="none" stroke="#e2e2e2" stroke-width="0.45"/>
<rect x="403.14" y="354.57" width="9.13" height="9.15" fill="none" stroke="#e2e2e2" stroke-width="0.45"/>
<rect x="412.28" y="354.57" width="9.13" height="9.15" fill="none" stroke="#e2e2e2" stroke-width="0.45"/>
<rect x="421.41" y="354.57" width="9.13" height="9.15" fill="none" stroke="#e2e2e2" stroke-width="0.45"/>
<rect x="430.55" y="354.57" width="9.13" height="9.15" fill="none" stroke="#e2e2e2" stroke-width="0.45"/>
<rect x="439.69" y="354.57" width="9.13" height="9.15" fill="none" stroke="#e2e2e2" stroke-width="0.45"/>
<rect x="448.82" y="354.57" width="9.13" height="9.15" fill="none" stroke="#e2e2e2" stroke-width="0.45"/>
<rect x="457.95" y="354.57" width="9.13" height="9.15" fill="none" stroke="#e2e2e2" stroke-width="0.45"/>
<rect x="339.20" y="363.73" width="9.13" height="9.15" fill="none" stroke="#e2e2e2" stroke-width="0.45"/>
<rect x="348.33" y="363.73" width="9.13" height="9.15" fill="none" stroke="#e2e2e2" stroke-width="0.45"/>
<rect x="357.47" y="363.73" width="9.13" height="9.15" fill="none" stroke="#e2e2e2" stroke-width="0.45"/>
<rect x="366.61" y="363.73" width="9.13" height="9.15" fill="none" stroke="#e2e2e2" stroke-width="0.45"/>
<rect x="375.74" y="363.73" width="9.13" height="9.15" fill="none" stroke="#e2e2e2" stroke-width="0.45"/>
<rect x="384.88" y="363.73" width="9.13" height="9.15" fill="none" stroke="#e2e2e2" stroke-width="0.45"/>
<rect x="394.01" y="363.73" width="9.13" height="9.15" fill="none" stroke="#e2e2e2" stroke-width="0.45"/>
<rect x="403.14" y="363.73" width="9.13" height="9.15" fill="none" stroke="#e2e2e2" stroke-width="0.45"/>
<rect x="412.28" y="363.73" width="9.13" height="9.15" fill="none" stroke="#e2e2e2" stroke-width="0.45"/>
<rect x="421.41" y="363.73" width="9.13" height="9.15" fill="none" stroke="#e2e2e2" stroke-width="0.45"/>
<rect x="430.55" y="363.73" width="9.13" height="9.15" fill="none" stroke="#e2e2e2" stroke-width="0.45"/>
<rect x="439.69" y="363.73" width="9.13" height="9.15" fill="none" stroke="#e2e2e2" stroke-width="0.45"/>
<rect x="448.82" y="363.73" width="9.13" height="9.15" fill="none" stroke="#e2e2e2" stroke-width="0.45"/>
<rect x="457.95" y="363.73" width="9.13" height="9.15" fill="none" stroke="#e2e2e2" stroke-width="0.45"/>
<rect x="467.09" y="363.73" width="9.13" height="9.15" fill="none" stroke="#e2e2e2" stroke-width="0.45"/>
<rect x="339.20" y="372.88" width="9.13" height="9.15" fill="none" stroke="#e2e2e2" stroke-width="0.45"/>
<rect x="348.33" y="372.88" width="9.13" height="9.15" fill="none" stroke="#e2e2e2" stroke-width="0.45"/>
<rect x="357.47" y="372.88" width="9.13" height="9.15" fill="none" stroke="#e2e2e2" stroke-width="0.45"/>
<rect x="366.61" y="372.88" width="9.13" height="9.15" fill="none" stroke="#e2e2e2" stroke-width="0.45"/>
<rect x="375.74" y="372.88" width="9.13" height="9.15" fill="none" stroke="#e2e2e2" stroke-width="0.45"/>
<rect x="384.88" y="372.88" width="9.13" height="9.15" fill="none" stroke="#e2e2e2" stroke-width="0.45"/>
<rect x="394.01" y="372.88" width="9.13" height="9.15" fill="none" stroke="#e2e2e2" stroke-width="0.45"/>
<rect x="403.14" y="372.88" width="9.13" height="9.15" fill="none" stroke="#e2e2e2" stroke-width="0.45"/>
<rect x="412.28" y="372.88" width="9.13" height="9.15" fill="none" stroke="#e2e2e2" stroke-width="0.45"/>
<rect x="421.41" y="372.88" width="9.13" height="9.15" fill="none" stroke="#e2e2e2" stroke-width="0.45"/>
<rect x="430.55" y="372.88" width="9.13" height="9.15" fill="none" stroke="#e2e2e2" stroke-width="0.45"/>
<rect x="439.69" y="372.88" width="9.13" height="9.15" fill="none" stroke="#e2e2e2" stroke-width="0.45"/>
<rect x="448.82" y="372.88" width="9.13" height="9.15" fill="none" stroke="#e2e2e2" stroke-width="0.45"/>
<rect x="457.95" y="372.88" width="9.13" height="9.15" fill="none" stroke="#e2e2e2" stroke-width="0.45"/>
<rect x="467.09" y="372.88" width="9.13" height="9.15" fill="none" stroke="#e2e2e2" stroke-width="0.45"/>
<rect x="476.23" y="372.88" width="9.13" height="9.15" fill="none" stroke="#e2e2e2" stroke-width="0.45"/>
<rect x="339.20" y="382.03" width="9.13" height="9.15" fill="none" stroke="#e2e2e2" stroke-width="0.45"/>
<rect x="348.33" y="382.03" width="9.13" height="9.15" fill="none" stroke="#e2e2e2" stroke-width="0.45"/>
<rect x="357.47" y="382.03" width="9.13" height="9.15" fill="none" stroke="#e2e2e2" stroke-width="0.45"/>
<rect x="366.61" y="382.03" width="9.13" height="9.15" fill="none" stroke="#e2e2e2" stroke-width="0.45"/>
<rect x="375.74" y="382.03" width="9.13" height="9.15" fill="none" stroke="#e2e2e2" stroke-width="0.45"/>
<rect x="384.88" y="382.03" width="9.13" height="9.15" fill="none" stroke="#e2e2e2" stroke-width="0.45"/>
<rect x="394.01" y="382.03" width="9.13" height="9.15" fill="none" stroke="#e2e2e2" stroke-width="0.45"/>
<rect x="403.14" y="382.03" width="9.13" height="9.15" fill="none" stroke="#e2e2e2" stroke-width="0.45"/>
<rect x="412.28" y="382.03" width="9.13" height="9.15" fill="none" stroke="#e2e2e2" stroke-width="0.45"/>
<rect x="421.41" y="382.03" width="9.13" height="9.15" fill="none" stroke="#e2e2e2" stroke-width="0.45"/>
<rect x="430.55" y="382.03" width="9.13" height="9.15" fill="none" stroke="#e2e2e2" stroke-width="0.45"/>
<rect x="439.69" y="382.03" width="9.13" height="9.15" fill="none" stroke="#e2e2e2" stroke-width="0.45"/>
<rect x="448.82" y="382.03" width="9.13" height="9.15" fill="none" stroke="#e2e2e2" stroke-width="0.45"/>
<rect x="457.95" y="382.03" width="9.13" height="9.15" fill="none" stroke="#e2e2e2" stroke-width="0.45"/>
<rect x="467.09" y="382.03" width="9.13" height="9.15" fill="none" stroke="#e2e2e2" stroke-width="0.45"/>
<rect x="476.23" y="382.03" width="9.13" height="9.15" fill="none" stroke="#e2e2e2" stroke-width="0.45"/>
<rect x="485.36" y="382.03" width="9.13" height="9.15" fill="none" stroke="#e2e2e2" stroke-width="0.45"/>
<rect x="339.20" y="391.19" width="9.13" height="9.15" fill="none" stroke="#e2e2e2" stroke-width="0.45"/>
<rect x="348.33" y="391.19" width="9.13" height="9.15" fill="none" stroke="#e2e2e2" stroke-width="0.45"/>
<rect x="357.47" y="391.19" width="9.13" height="9.15" fill="none" stroke="#e2e2e2" stroke-width="0.45"/>
<rect x="366.61" y="391.19" width="9.13" height="9.15" fill="none" stroke="#e2e2e2" stroke-width="0.45"/>
<rect x="375.74" y="391.19" width="9.13" height="9.15" fill="none" stroke="#e2e2e2" stroke-width="0.45"/>
<rect x="384.88" y="391.19" width="9.13" height="9.15" fill="none" stroke="#e2e2e2" stroke-width="0.45"/>
<rect x="394.01" y="391.19" width="9.13" height="9.15" fill="none" stroke="#e2e2e2" stroke-width="0.45"/>
<rect x="403.14" y="391.19" width="9.13" height="9.15" fill="none" stroke="#e2e2e2" stroke-width="0.45"/>
<rect x="412.28" y="391.19" width="9.13" height="9.15" fill="none" stroke="#e2e2e2" stroke-width="0.45"/>
<rect x="421.41" y="391.19" width="9.13" height="9.15" fill="none" stroke="#e2e2e2" stroke-width="0.45"/>
<rect x="430.55" y="391.19" width="9.13" height="9.15" fill="none" stroke="#e2e2e2" stroke-width="0.45"/>
<rect x="439.69" y="391.19" width="9.13" height="9.15" fill="none" stroke="#e2e2e2" stroke-width="0.45"/>
<rect x="448.82" y="391.19" width="9.13" height="9.15" fill="none" stroke="#e2e2e2" stroke-width="0.45"/>
<rect x="457.95" y="391.19" width="9.13" height="9.15" fill="none" stroke="#e2e2e2" stroke-width="0.45"/>
<rect x="467.09" y="391.19" width="9.13" height="9.15" fill="none" stroke="#e2e2e2" stroke-width="0.45"/>
<rect x="476.23" y="391.19" width="9.13" height="9.15" fill="none" stroke="#e2e2e2" stroke-width="0.45"/>
<rect x="485.36" y="391.19" width="9.13" height="9.15" fill="none" stroke="#e2e2e2" stroke-width="0.45"/>
<rect x="494.50" y="391.19" width="9.13" height="9.15" fill="none" stroke="#e2e2e2" stroke-width="0.45"/>
<rect x="339.20" y="400.35" width="9.13" height="9.15" fill="none" stroke="#e2e2e2" stroke-width="0.45"/>
<rect x="348.33" y="400.35" width="9.13" height="9.15" fill="none" stroke="#e2e2e2" stroke-width="0.45"/>
<rect x="357.47" y="400.35" width="9.13" height="9.15" fill="none" stroke="#e2e2e2" stroke-width="0.45"/>
<rect x="366.61" y="400.35" width="9.13" height="9.15" fill="none" stroke="#e2e2e2" stroke-width="0.45"/>
<rect x="375.74" y="400.35" width="9.13" height="9.15" fill="none" stroke="#e2e2e2" stroke-width="0.45"/>
<rect x="384.88" y="400.35" width="9.13" height="9.15" fill="none" stroke="#e2e2e2" stroke-width="0.45"/>
<rect x="394.01" y="400.35" width="9.13" height="9.15" fill="none" stroke="#e2e2e2" stroke-width="0.45"/>
<rect x="403.14" y="400.35" width="9.13" height="9.15" fill="none" stroke="#e2e2e2" stroke-width="0.45"/>
<rect x="412.28" y="400.35" width="9.13" height="9.15" fill="none" stroke="#e2e2e2" stroke-width="0.45"/>
<rect x="421.41" y="400.35" width="9.13" height="9.15" fill="none" stroke="#e2e2e2" stroke-width="0.45"/>
<rect x="430.55" y="400.35" width="9.13" height="9.15" fill="none" stroke="#e2e2e2" stroke-width="0.45"/>
<rect x="439.69" y="400.35" width="9.13" height="9.15" fill="none" stroke="#e2e2e2" stroke-width="0.45"/>
<rect x="448.82" y="400.35" width="9.13" height="9.15" fill="none" stroke="#e2e2e2" stroke-width="0.45"/>
<rect x="457.95" y="400.35" width="9.13" height="9.15" fill="none" stroke="#e2e2e2" stroke-width="0.45"/>
<rect x="467.09" y="400.35" width="9.13" height="9.15" fill="none" stroke="#e2e2e2" stroke-width="0.45"/>
<rect x="476.23" y="400.35" width="9.13" height="9.15" fill="none" stroke="#e2e2e2" stroke-width="0.45"/>
<rect x="485.36" y="400.35" width="9.13" height="9.15" fill="none" stroke="#e2e2e2" stroke-width="0.45"/>
<rect x="494.50" y="400.35" width="9.13" height="9.15" fill="none" stroke="#e2e2e2" stroke-width="0.45"/>
<rect x="503.63" y="400.35" width="9.13" height="9.15" fill="none" stroke="#e2e2e2" stroke-width="0.45"/>
<circle cx="340.92" cy="230.98" r="0.85" fill="#111"/>
<circle cx="343.77" cy="230.98" r="0.85" fill="#111"/>
<circle cx="346.62" cy="230.98" r="0.85" fill="#111"/>
<circle cx="350.05" cy="230.98" r="0.85" fill="#111"/>
<circle cx="352.90" cy="230.98" r="0.85" fill="#111"/>
<circle cx="355.75" cy="230.98" r="0.85" fill="#111"/>
<circle cx="359.19" cy="230.98" r="0.85" fill="#111"/>
<circle cx="362.04" cy="230.98" r="0.85" fill="#111"/>
<circle cx="364.89" cy="230.98" r="0.85" fill="#111"/>
<circle cx="368.32" cy="230.98" r="0.85" fill="#111"/>
<circle cx="371.17" cy="230.98" r="0.85" fill="#111"/>
<circle cx="374.02" cy="230.98" r="0.85" fill="#111"/>
<circle cx="377.46" cy="230.98" r="0.85" fill="#111"/>
<circle cx="380.31" cy="230.98" r="0.85" fill="#111"/>
<circle cx="383.16" cy="230.98" r="0.85" fill="#111"/>
<circle cx="386.59" cy="230.98" r="0.85" fill="#111"/>
<circle cx="389.44" cy="230.98" r="0.85" fill="#111"/>
<circle cx="392.29" cy="230.98" r="0.85" fill="#111"/>
<circle cx="395.73" cy="230.98" r="0.85" fill="#111"/>
<circle cx="398.58" cy="230.98" r="0.85" fill="#111"/>
<circle cx="401.43" cy="230.98" r="0.85" fill="#111"/>
<circle cx="406.29" cy="230.98" r="0.85" fill="#111"/>
<circle cx="409.14" cy="230.98" r="0.85" fill="#111"/>
<circle cx="414.00" cy="230.98" r="0.85" fill="#111"/>
<circle cx="416.85" cy="230.98" r="0.85" fill="#111"/>
<circle cx="419.70" cy="230.98" r="0.85" fill="#111"/>
<circle cx="423.13" cy="230.98" r="0.85" fill="#111"/>
<circle cx="425.98" cy="230.98" r="0.85" fill="#111"/>
<circle cx="428.83" cy="230.98" r="0.85" fill="#111"/>
<circle cx="432.27" cy="230.98" r="0.85" fill="#111"/>
<circle cx="435.12" cy="230.98" r="0.85" fill="#111"/>
<circle cx="437.97" cy="230.98" r="0.85" fill="#111"/>
<circle cx="441.40" cy="230.98" r="0.85" fill="#111"/>
<circle cx="444.25" cy="230.98" r="0.85" fill="#111"/>
<circle cx="447.10" cy="230.98" r="0.85" fill="#111"/>
<circle cx="450.54" cy="230.98" r="0.85" fill="#111"/>
<circle cx="453.39" cy="230.98" r="0.85" fill="#111"/>
<circle cx="456.24" cy="230.98" r="0.85" fill="#111"/>
<circle cx="459.67" cy="230.98" r="0.85" fill="#111"/>
<circle cx="462.52" cy="230.98" r="0.85" fill="#111"/>
<circle cx="465.37" cy="230.98" r="0.85" fill="#111"/>
<circle cx="468.81" cy="230.98" r="0.85" fill="#111"/>
<circle cx="471.66" cy="230.98" r="0.85" fill="#111"/>
<circle cx="474.51" cy="230.98" r="0.85" fill="#111"/>
<circle cx="477.94" cy="230.98" r="0.85" fill="#111"/>
<circle cx="480.79" cy="230.98" r="0.85" fill="#111"/>
<circle cx="483.64" cy="230.98" r="0.85" fill="#111"/>
<circle cx="487.08" cy="230.98" r="0.85" fill="#111"/>
<circle cx="489.93" cy="230.98" r="0.85" fill="#111"/>
<circle cx="492.78" cy="230.98" r="0.85" fill="#111"/>
<circle cx="496.21" cy="230.98" r="0.85" fill="#111"/>
<circle cx="499.06" cy="230.98" r="0.85" fill="#111"/>
<circle cx="501.91" cy="230.98" r="0.85" fill="#111"/>
<circle cx="505.35" cy="230.98" r="0.85" fill="#111"/>
<circle cx="508.20" cy="230.98" r="0.85" fill="#111"/>
<circle cx="511.05" cy="230.98" r="0.85" fill="#111"/>
<circle cx="514.48" cy="230.98" r="0.85" fill="#111"/>
<circle cx="517.33" cy="230.98" r="0.85" fill="#111"/>
<circle cx="520.18" cy="230.98" r="0.85" fill="#111"/>
<circle cx="350.05" cy="240.13" r="0.85" fill="#111"/>
<circle cx="352.90" cy="240.13" r="0.85" fill="#111"/>
<circle cx="355.75" cy="240.13" r="0.85" fill="#111"/>
<circle cx="359.19" cy="240.13" r="0.85" fill="#111"/>
<circle cx="362.04" cy="240.13" r="0.85" fill="#111"/>
<circle cx="364.89" cy="240.13" r="0.85" fill="#111"/>
<circle cx="368.32" cy="240.13" r="0.85" fill="#111"/>
<circle cx="371.17" cy="240.13" r="0.85" fill="#111"/>
<circle cx="374.02" cy="240.13" r="0.85" fill="#111"/>
<circle cx="377.46" cy="240.13" r="0.85" fill="#111"/>
<circle cx="380.31" cy="240.13" r="0.85" fill="#111"/>
<circle cx="383.16" cy="240.13" r="0.85" fill="#111"/>
<circle cx="386.59" cy="240.13" r="0.85" fill="#111"/>
<circle cx="389.44" cy="240.13" r="0.85" fill="#111"/>
<circle cx="392.29" cy="240.13" r="0.85" fill="#111"/>
<circle cx="395.73" cy="240.13" r="0.85" fill="#111"/>
<circle cx="398.58" cy="240.13" r="0.85" fill="#111"/>
<circle cx="401.43" cy="240.13" r="0.85" fill="#111"/>
<circle cx="414.00" cy="240.13" r="0.85" fill="#111"/>
<circle cx="416.85" cy="240.13" r="0.85" fill="#111"/>
<circle cx="419.70" cy="240.13" r="0.85" fill="#111"/>
<circle cx="423.13" cy="240.13" r="0.85" fill="#111"/>
<circle cx="425.98" cy="240.13" r="0.85" fill="#111"/>
<circle cx="428.83" cy="240.13" r="0.85" fill="#111"/>
<circle cx="432.27" cy="240.13" r="0.85" fill="#111"/>
<circle cx="435.12" cy="240.13" r="0.85" fill="#111"/>
<circle cx="437.97" cy="240.13" r="0.85" fill="#111"/>
<circle cx="441.40" cy="240.13" r="0.85" fill="#111"/>
<circle cx="444.25" cy="240.13" r="0.85" fill="#111"/>
<circle cx="447.10" cy="240.13" r="0.85" fill="#111"/>
<circle cx="450.54" cy="240.13" r="0.85" fill="#111"/>
<circle cx="453.39" cy="240.13" r="0.85" fill="#111"/>
<circle cx="456.24" cy="240.13" r="0.85" fill="#111"/>
<circle cx="459.67" cy="240.13" r="0.85" fill="#111"/>
<circle cx="462.52" cy="240.13" r="0.85" fill="#111"/>
<circle cx="465.37" cy="240.13" r="0.85" fill="#111"/>
<circle cx="468.81" cy="240.13" r="0.85" fill="#111"/>
<circle cx="471.66" cy="240.13" r="0.85" fill="#111"/>
<circle cx="474.51" cy="240.13" r="0.85" fill="#111"/>
<circle cx="477.94" cy="240.13" r="0.85" fill="#111"/>
<circle cx="480.79" cy="240.13" r="0.85" fill="#111"/>
<circle cx="483.64" cy="240.13" r="0.85" fill="#111"/>
<circle cx="487.08" cy="240.13" r="0.85" fill="#111"/>
<circle cx="489.93" cy="240.13" r="0.85" fill="#111"/>
<circle cx="492.78" cy="240.13" r="0.85" fill="#111"/>
<circle cx="496.21" cy="240.13" r="0.85" fill="#111"/>
<circle cx="499.06" cy="240.13" r="0.85" fill="#111"/>
<circle cx="501.91" cy="240.13" r="0.85" fill="#111"/>
<circle cx="505.35" cy="240.13" r="0.85" fill="#111"/>
<circle cx="508.20" cy="240.13" r="0.85" fill="#111"/>
<circle cx="511.05" cy="240.13" r="0.85" fill="#111"/>
<circle cx="514.48" cy="240.13" r="0.85" fill="#111"/>
<circle cx="517.33" cy="240.13" r="0.85" fill="#111"/>
<circle cx="520.18" cy="240.13" r="0.85" fill="#111"/>
<circle cx="359.19" cy="249.29" r="0.85" fill="#111"/>
<circle cx="362.04" cy="249.29" r="0.85" fill="#111"/>
<circle cx="364.89" cy="249.29" r="0.85" fill="#111"/>
<circle cx="368.32" cy="249.29" r="0.85" fill="#111"/>
<circle cx="371.17" cy="249.29" r="0.85" fill="#111"/>
<circle cx="374.02" cy="249.29" r="0.85" fill="#111"/>
<circle cx="377.46" cy="249.29" r="0.85" fill="#111"/>
<circle cx="380.31" cy="249.29" r="0.85" fill="#111"/>
<circle cx="383.16" cy="249.29" r="0.85" fill="#111"/>
<circle cx="386.59" cy="249.29" r="0.85" fill="#111"/>
<circle cx="389.44" cy="249.29" r="0.85" fill="#111"/>
<circle cx="392.29" cy="249.29" r="0.85" fill="#111"/>
<circle cx="395.73" cy="249.29" r="0.85" fill="#111"/>
<circle cx="398.58" cy="249.29" r="0.85" fill="#111"/>
<circle cx="401.43" cy="249.29" r="0.85" fill="#111"/>
<circle cx="404.86" cy="249.29" r="0.85" fill="#111"/>
<circle cx="407.71" cy="249.29" r="0.85" fill="#111"/>
<circle cx="410.56" cy="249.29" r="0.85" fill="#111"/>
<circle cx="414.00" cy="249.29" r="0.85" fill="#111"/>
<circle cx="416.85" cy="249.29" r="0.85" fill="#111"/>
<circle cx="419.70" cy="249.29" r="0.85" fill="#111"/>
<circle cx="423.13" cy="249.29" r="0.85" fill="#111"/>
<circle cx="425.98" cy="249.29" r="0.85" fill="#111"/>
<circle cx="428.83" cy="249.29" r="0.85" fill="#111"/>
<circle cx="432.27" cy="249.29" r="0.85" fill="#111"/>
<circle cx="435.12" cy="249.29" r="0.85" fill="#111"/>
<circle cx="437.97" cy="249.29" r="0.85" fill="#111"/>
<circle cx="441.40" cy="249.29" r="0.85" fill="#111"/>
<circle cx="444.25" cy="249.29" r="0.85" fill="#111"/>
<circle cx="447.10" cy="249.29" r="0.85" fill="#111"/>
<circle cx="450.54" cy="249.29" r="0.85" fill="#111"/>
<circle cx="453.39" cy="249.29" r="0.85" fill="#111"/>
<circle cx="456.24" cy="249.29" r="0.85" fill="#111"/>
<circle cx="459.67" cy="249.29" r="0.85" fill="#111"/>
<circle cx="462.52" cy="249.29" r="0.85" fill="#111"/>
<circle cx="465.37" cy="249.29" r="0.85" fill="#111"/>
<circle cx="468.81" cy="249.29" r="0.85" fill="#111"/>
<circle cx="471.66" cy="249.29" r="0.85" fill="#111"/>
<circle cx="474.51" cy="249.29" r="0.85" fill="#111"/>
<circle cx="477.94" cy="249.29" r="0.85" fill="#111"/>
<circle cx="480.79" cy="249.29" r="0.85" fill="#111"/>
<circle cx="483.64" cy="249.29" r="0.85" fill="#111"/>
<circle cx="487.08" cy="249.29" r="0.85" fill="#111"/>
<circle cx="489.93" cy="249.29" r="0.85" fill="#111"/>
<circle cx="492.78" cy="249.29" r="0.85" fill="#111"/>
<circle cx="496.21" cy="249.29" r="0.85" fill="#111"/>
<circle cx="499.06" cy="249.29" r="0.85" fill="#111"/>
<circle cx="501.91" cy="249.29" r="0.85" fill="#111"/>
<circle cx="505.35" cy="249.29" r="0.85" fill="#111"/>
<circle cx="508.20" cy="249.29" r="0.85" fill="#111"/>
<circle cx="511.05" cy="249.29" r="0.85" fill="#111"/>
<circle cx="514.48" cy="249.29" r="0.85" fill="#111"/>
<circle cx="517.33" cy="249.29" r="0.85" fill="#111"/>
<circle cx="520.18" cy="249.29" r="0.85" fill="#111"/>
<circle cx="368.32" cy="258.44" r="0.85" fill="#111"/>
<circle cx="371.17" cy="258.44" r="0.85" fill="#111"/>
<circle cx="374.02" cy="258.44" r="0.85" fill="#111"/>
<circle cx="377.46" cy="258.44" r="0.85" fill="#111"/>
<circle cx="380.31" cy="258.44" r="0.85" fill="#111"/>
<circle cx="383.16" cy="258.44" r="0.85" fill="#111"/>
<circle cx="386.59" cy="258.44" r="0.85" fill="#111"/>
<circle cx="389.44" cy="258.44" r="0.85" fill="#111"/>
<circle cx="392.29" cy="258.44" r="0.85" fill="#111"/>
<circle cx="395.73" cy="258.44" r="0.85" fill="#111"/>
<circle cx="398.58" cy="258.44" r="0.85" fill="#111"/>
<circle cx="401.43" cy="258.44" r="0.85" fill="#111"/>
<circle cx="404.86" cy="258.44" r="0.85" fill="#111"/>
<circle cx="407.71" cy="258.44" r="0.85" fill="#111"/>
<circle cx="410.56" cy="258.44" r="0.85" fill="#111"/>
<circle cx="414.00" cy="258.44" r="0.85" fill="#111"/>
<circle cx="416.85" cy="258.44" r="0.85" fill="#111"/>
<circle cx="419.70" cy="258.44" r="0.85" fill="#111"/>
<circle cx="423.13" cy="258.44" r="0.85" fill="#111"/>
<circle cx="425.98" cy="258.44" r="0.85" fill="#111"/>
<circle cx="428.83" cy="258.44" r="0.85" fill="#111"/>
<circle cx="432.27" cy="258.44" r="0.85" fill="#111"/>
<circle cx="435.12" cy="258.44" r="0.85" fill="#111"/>
<circle cx="437.97" cy="258.44" r="0.85" fill="#111"/>
<circle cx="441.40" cy="258.44" r="0.85" fill="#111"/>
<circle cx="444.25" cy="258.44" r="0.85" fill="#111"/>
<circle cx="447.10" cy="258.44" r="0.85" fill="#111"/>
<circle cx="450.54" cy="258.44" r="0.85" fill="#111"/>
<circle cx="453.39" cy="258.44" r="0.85" fill="#111"/>
<circle cx="456.24" cy="258.44" r="0.85" fill="#111"/>
<circle cx="459.67" cy="258.44" r="0.85" fill="#111"/>
<circle cx="462.52" cy="258.44" r="0.85" fill="#111"/>
<circle cx="465.37" cy="258.44" r="0.85" fill="#111"/>
<circle cx="468.81" cy="258.44" r="0.85" fill="#111"/>
<circle cx="471.66" cy="258.44" r="0.85" fill="#111"/>
<circle cx="474.51" cy="258.44" r="0.85" fill="#111"/>
<circle cx="477.94" cy="258.44" r="0.85" fill="#111"/>
<circle cx="480.79" cy="258.44" r="0.85" fill="#111"/>
<circle cx="483.64" cy="258.44" r="0.85" fill="#111"/>
<circle cx="487.08" cy="258.44" r="0.85" fill="#111"/>
<circle cx="489.93" cy="258.44" r="0.85" fill="#111"/>
<circle cx="492.78" cy="258.44" r="0.85" fill="#111"/>
<circle cx="496.21" cy="258.44" r="0.85" fill="#111"/>
<circle cx="499.06" cy="258.44" r="0.85" fill="#111"/>
<circle cx="501.91" cy="258.44" r="0.85" fill="#111"/>
<circle cx="505.35" cy="258.44" r="0.85" fill="#111"/>
<circle cx="508.20" cy="258.44" r="0.85" fill="#111"/>
<circle cx="511.05" cy="258.44" r="0.85" fill="#111"/>
<circle cx="514.48" cy="258.44" r="0.85" fill="#111"/>
<circle cx="517.33" cy="258.44" r="0.85" fill="#111"/>
<circle cx="520.18" cy="258.44" r="0.85" fill="#111"/>
<circle cx="377.46" cy="267.60" r="0.85" fill="#111"/>
<circle cx="380.31" cy="267.60" r="0.85" fill="#111"/>
<circle cx="383.16" cy="267.60" r="0.85" fill="#111"/>
<circle cx="386.59" cy="267.60" r="0.85" fill="#111"/>
<circle cx="389.44" cy="267.60" r="0.85" fill="#111"/>
<circle cx="392.29" cy="267.60" r="0.85" fill="#111"/>
<circle cx="395.73" cy="267.60" r="0.85" fill="#111"/>
<circle cx="398.58" cy="267.60" r="0.85" fill="#111"/>
<circle cx="401.43" cy="267.60" r="0.85" fill="#111"/>
<circle cx="404.86" cy="267.60" r="0.85" fill="#111"/>
<circle cx="407.71" cy="267.60" r="0.85" fill="#111"/>
<circle cx="410.56" cy="267.60" r="0.85" fill="#111"/>
<circle cx="423.13" cy="267.60" r="0.85" fill="#111"/>
<circle cx="425.98" cy="267.60" r="0.85" fill="#111"/>
<circle cx="428.83" cy="267.60" r="0.85" fill="#111"/>
<circle cx="432.27" cy="267.60" r="0.85" fill="#111"/>
<circle cx="435.12" cy="267.60" r="0.85" fill="#111"/>
<circle cx="437.97" cy="267.60" r="0.85" fill="#111"/>
<circle cx="441.40" cy="267.60" r="0.85" fill="#111"/>
<circle cx="444.25" cy="267.60" r="0.85" fill="#111"/>
<circle cx="447.10" cy="267.60" r="0.85" fill="#111"/>
<circle cx="450.54" cy="267.60" r="0.85" fill="#111"/>
<circle cx="453.39" cy="267.60" r="0.85" fill="#111"/>
<circle cx="456.24" cy="267.60" r="0.85" fill="#111"/>
<circle cx="459.67" cy="267.60" r="0.85" fill="#111"/>
<circle cx="462.52" cy="267.60" r="0.85" fill="#111"/>
<circle cx="465.37" cy="267.60" r="0.85" fill="#111"/>
<circle cx="468.81" cy="267.60" r="0.85" fill="#111"/>
<circle cx="471.66" cy="267.60" r="0.85" fill="#111"/>
<circle cx="474.51" cy="267.60" r="0.85" fill="#111"/>
<circle cx="477.94" cy="267.60" r="0.85" fill="#111"/>
<circle cx="480.79" cy="267.60" r="0.85" fill="#111"/>
<circle cx="483.64" cy="267.60" r="0.85" fill="#111"/>
<circle cx="487.08" cy="267.60" r="0.85" fill="#111"/>
<circle cx="489.93" cy="267.60" r="0.85" fill="#111"/>
<circle cx="492.78" cy="267.60" r="0.85" fill="#111"/>
<circle cx="496.21" cy="267.60" r="0.85" fill="#111"/>
<circle cx="499.06" cy="267.60" r="0.85" fill="#111"/>
<circle cx="501.91" cy="267.60" r="0.85" fill="#111"/>
<circle cx="505.35" cy="267.60" r="0.85" fill="#111"/>
<circle cx="508.20" cy="267.60" r="0.85" fill="#111"/>
<circle cx="511.05" cy="267.60" r="0.85" fill="#111"/>
<circle cx="514.48" cy="267.60" r="0.85" fill="#111"/>
<circle cx="517.33" cy="267.60" r="0.85" fill="#111"/>
<circle cx="520.18" cy="267.60" r="0.85" fill="#111"/>
<circle cx="386.59" cy="276.75" r="0.85" fill="#111"/>
<circle cx="389.44" cy="276.75" r="0.85" fill="#111"/>
<circle cx="392.29" cy="276.75" r="0.85" fill="#111"/>
<circle cx="395.73" cy="276.75" r="0.85" fill="#111"/>
<circle cx="398.58" cy="276.75" r="0.85" fill="#111"/>
<circle cx="401.43" cy="276.75" r="0.85" fill="#111"/>
<circle cx="404.86" cy="276.75" r="0.85" fill="#111"/>
<circle cx="407.71" cy="276.75" r="0.85" fill="#111"/>
<circle cx="410.56" cy="276.75" r="0.85" fill="#111"/>
<circle cx="414.00" cy="276.75" r="0.85" fill="#111"/>
<circle cx="416.85" cy="276.75" r="0.85" fill="#111"/>
<circle cx="419.70" cy="276.75" r="0.85" fill="#111"/>
<circle cx="423.13" cy="276.75" r="0.85" fill="#111"/>
<circle cx="425.98" cy="276.75" r="0.85" fill="#111"/>
<circle cx="428.83" cy="276.75" r="0.85" fill="#111"/>
<circle cx="432.27" cy="276.75" r="0.85" fill="#111"/>
<circle cx="435.12" cy="276.75" r="0.85" fill="#111"/>
<circle cx="437.97" cy="276.75" r="0.85" fill="#111"/>
<circle cx="441.40" cy="276.75" r="0.85" fill="#111"/>
<circle cx="444.25" cy="276.75" r="0.85" fill="#111"/>
<circle cx="447.10" cy="276.75" r="0.85" fill="#111"/>
<circle cx="450.54" cy="276.75" r="0.85" fill="#111"/>
<circle cx="453.39" cy="276.75" r="0.85" fill="#111"/>
<circle cx="456.24" cy="276.75" r="0.85" fill="#111"/>
<circle cx="459.67" cy="276.75" r="0.85" fill="#111"/>
<circle cx="462.52" cy="276.75" r="0.85" fill="#111"/>
<circle cx="465.37" cy="276.75" r="0.85" fill="#111"/>
<circle cx="468.81" cy="276.75" r="0.85" fill="#111"/>
<circle cx="471.66" cy="276.75" r="0.85" fill="#111"/>
<circle cx="474.51" cy="276.75" r="0.85" fill="#111"/>
<circle cx="477.94" cy="276.75" r="0.85" fill="#111"/>
<circle cx="480.79" cy="276.75" r="0.85" fill="#111"/>
<circle cx="483.64" cy="276.75" r="0.85" fill="#111"/>
<circle cx="487.08" cy="276.75" r="0.85" fill="#111"/>
<circle cx="489.93" cy="276.75" r="0.85" fill="#111"/>
<circle cx="492.78" cy="276.75" r="0.85" fill="#111"/>
<circle cx="496.21" cy="276.75" r="0.85" fill="#111"/>
<circle cx="499.06" cy="276.75" r="0.85" fill="#111"/>
<circle cx="501.91" cy="276.75" r="0.85" fill="#111"/>
<circle cx="505.35" cy="276.75" r="0.85" fill="#111"/>
<circle cx="508.20" cy="276.75" r="0.85" fill="#111"/>
<circle cx="511.05" cy="276.75" r="0.85" fill="#111"/>
<circle cx="514.48" cy="276.75" r="0.85" fill="#111"/>
<circle cx="517.33" cy="276.75" r="0.85" fill="#111"/>
<circle cx="520.18" cy="276.75" r="0.85" fill="#111"/>
<circle cx="395.73" cy="285.91" r="0.85" fill="#111"/>
<circle cx="398.58" cy="285.91" r="0.85" fill="#111"/>
<circle cx="401.43" cy="285.91" r="0.85" fill="#111"/>
<circle cx="404.86" cy="285.91" r="0.85" fill="#111"/>
<circle cx="407.71" cy="285.91" r="0.85" fill="#111"/>
<circle cx="410.56" cy="285.91" r="0.85" fill="#111"/>
<circle cx="414.00" cy="285.91" r="0.85" fill="#111"/>
<circle cx="416.85" cy="285.91" r="0.85" fill="#111"/>
<circle cx="419.70" cy="285.91" r="0.85" fill="#111"/>
<circle cx="432.27" cy="285.91" r="0.85" fill="#111"/>
<circle cx="435.12" cy="285.91" r="0.85" fill="#111"/>
<circle cx="437.97" cy="285.91" r="0.85" fill="#111"/>
<circle cx="442.83" cy="285.91" r="0.85" fill="#111"/>
<circle cx="445.68" cy="285.91" r="0.85" fill="#111"/>
<circle cx="450.54" cy="285.91" r="0.85" fill="#111"/>
<circle cx="453.39" cy="285.91" r="0.85" fill="#111"/>
<circle cx="456.24" cy="285.91" r="0.85" fill="#111"/>
<circle cx="468.81" cy="285.91" r="0.85" fill="#111"/>
<circle cx="471.66" cy="285.91" r="0.85" fill="#111"/>
<circle cx="474.51" cy="285.91" r="0.85" fill="#111"/>
<circle cx="477.94" cy="285.91" r="0.85" fill="#111"/>
<circle cx="480.79" cy="285.91" r="0.85" fill="#111"/>
<circle cx="483.64" cy="285.91" r="0.85" fill="#111"/>
<circle cx="487.08" cy="285.91" r="0.85" fill="#111"/>
<circle cx="489.93" cy="285.91" r="0.85" fill="#111"/>
<circle cx="492.78" cy="285.91" r="0.85" fill="#111"/>
<circle cx="496.21" cy="285.91" r="0.85" fill="#111"/>
<circle cx="499.06" cy="285.91" r="0.85" fill="#111"/>
<circle cx="501.91" cy="285.91" r="0.85" fill="#111"/>
<circle cx="505.35" cy="285.91" r="0.85" fill="#111"/>
<circle cx="508.20" cy="285.91" r="0.85" fill="#111"/>
<circle cx="511.05" cy="285.91" r="0.85" fill="#111"/>
<circle cx="514.48" cy="285.91" r="0.85" fill="#111"/>
<circle cx="517.33" cy="285.91" r="0.85" fill="#111"/>
<circle cx="520.18" cy="285.91" r="0.85" fill="#111"/>
<circle cx="404.86" cy="295.06" r="0.85" fill="#111"/>
<circle cx="407.71" cy="295.06" r="0.85" fill="#111"/>
<circle cx="410.56" cy="295.06" r="0.85" fill="#111"/>
<circle cx="414.00" cy="295.06" r="0.85" fill="#111"/>
<circle cx="416.85" cy="295.06" r="0.85" fill="#111"/>
<circle cx="419.70" cy="295.06" r="0.85" fill="#111"/>
<circle cx="423.13" cy="295.06" r="0.85" fill="#111"/>
<circle cx="425.98" cy="295.06" r="0.85" fill="#111"/>
<circle cx="428.83" cy="295.06" r="0.85" fill="#111"/>
<circle cx="433.69" cy="295.06" r="0.85" fill="#111"/>
<circle cx="436.54" cy="295.06" r="0.85" fill="#111"/>
<circle cx="450.54" cy="295.06" r="0.85" fill="#111"/>
<circle cx="453.39" cy="295.06" r="0.85" fill="#111"/>
<circle cx="456.24" cy="295.06" r="0.85" fill="#111"/>
<circle cx="459.67" cy="295.06" r="0.85" fill="#111"/>
<circle cx="462.52" cy="295.06" r="0.85" fill="#111"/>
<circle cx="465.37" cy="295.06" r="0.85" fill="#111"/>
<circle cx="468.81" cy="295.06" r="0.85" fill="#111"/>
<circle cx="471.66" cy="295.06" r="0.85" fill="#111"/>
<circle cx="474.51" cy="295.06" r="0.85" fill="#111"/>
<circle cx="480.79" cy="295.06" r="0.85" fill="#111"/>
<circle cx="487.08" cy="295.06" r="0.85" fill="#111"/>
<circle cx="489.93" cy="295.06" r="0.85" fill="#111"/>
<circle cx="492.78" cy="295.06" r="0.85" fill="#111"/>
<circle cx="505.35" cy="295.06" r="0.85" fill="#111"/>
<circle cx="508.20" cy="295.06" r="0.85" fill="#111"/>
<circle cx="511.05" cy="295.06" r="0.85" fill="#111"/>
<circle cx="515.91" cy="295.06" r="0.85" fill="#111"/>
<circle cx="518.76" cy="295.06" r="0.85" fill="#111"/>
<circle cx="414.00" cy="304.22" r="0.85" fill="#111"/>
<circle cx="416.85" cy="304.22" r="0.85" fill="#111"/>
<circle cx="419.70" cy="304.22" r="0.85" fill="#111"/>
<circle cx="450.54" cy="304.22" r="0.85" fill="#111"/>
<circle cx="453.39" cy="304.22" r="0.85" fill="#111"/>
<circle cx="456.24" cy="304.22" r="0.85" fill="#111"/>
<circle cx="461.10" cy="304.22" r="0.85" fill="#111"/>
<circle cx="463.95" cy="304.22" r="0.85" fill="#111"/>
<circle cx="468.81" cy="304.22" r="0.85" fill="#111"/>
<circle cx="471.66" cy="304.22" r="0.85" fill="#111"/>
<circle cx="474.51" cy="304.22" r="0.85" fill="#111"/>
<circle cx="477.94" cy="304.22" r="0.85" fill="#111"/>
<circle cx="480.79" cy="304.22" r="0.85" fill="#111"/>
<circle cx="483.64" cy="304.22" r="0.85" fill="#111"/>
<circle cx="487.08" cy="304.22" r="0.85" fill="#111"/>
<circle cx="489.93" cy="304.22" r="0.85" fill="#111"/>
<circle cx="492.78" cy="304.22" r="0.85" fill="#111"/>
<circle cx="514.48" cy="304.22" r="0.85" fill="#111"/>
<circle cx="517.33" cy="304.22" r="0.85" fill="#111"/>
<circle cx="520.18" cy="304.22" r="0.85" fill="#111"/>
<circle cx="423.13" cy="313.37" r="0.85" fill="#111"/>
<circle cx="425.98" cy="313.37" r="0.85" fill="#111"/>
<circle cx="428.83" cy="313.37" r="0.85" fill="#111"/>
<circle cx="432.27" cy="313.37" r="0.85" fill="#111"/>
<circle cx="435.12" cy="313.37" r="0.85" fill="#111"/>
<circle cx="437.97" cy="313.37" r="0.85" fill="#111"/>
<circle cx="441.40" cy="313.37" r="0.85" fill="#111"/>
<circle cx="444.25" cy="313.37" r="0.85" fill="#111"/>
<circle cx="447.10" cy="313.37" r="0.85" fill="#111"/>
<circle cx="450.54" cy="313.37" r="0.85" fill="#111"/>
<circle cx="453.39" cy="313.37" r="0.85" fill="#111"/>
<circle cx="456.24" cy="313.37" r="0.85" fill="#111"/>
<circle cx="459.67" cy="313.37" r="0.85" fill="#111"/>
<circle cx="462.52" cy="313.37" r="0.85" fill="#111"/>
<circle cx="465.37" cy="313.37" r="0.85" fill="#111"/>
<circle cx="468.81" cy="313.37" r="0.85" fill="#111"/>
<circle cx="471.66" cy="313.37" r="0.85" fill="#111"/>
<circle cx="474.51" cy="313.37" r="0.85" fill="#111"/>
<circle cx="477.94" cy="313.37" r="0.85" fill="#111"/>
<circle cx="480.79" cy="313.37" r="0.85" fill="#111"/>
<circle cx="483.64" cy="313.37" r="0.85" fill="#111"/>
<circle cx="487.08" cy="313.37" r="0.85" fill="#111"/>
<circle cx="489.93" cy="313.37" r="0.85" fill="#111"/>
<circle cx="492.78" cy="313.37" r="0.85" fill="#111"/>
<circle cx="496.21" cy="313.37" r="0.85" fill="#111"/>
<circle cx="499.06" cy="313.37" r="0.85" fill="#111"/>
<circle cx="501.91" cy="313.37" r="0.85" fill="#111"/>
<circle cx="505.35" cy="313.37" r="0.85" fill="#111"/>
<circle cx="508.20" cy="313.37" r="0.85" fill="#111"/>
<circle cx="511.05" cy="313.37" r="0.85" fill="#111"/>
<circle cx="514.48" cy="313.37" r="0.85" fill="#111"/>
<circle cx="517.33" cy="313.37" r="0.85" fill="#111"/>
<circle cx="520.18" cy="313.37" r="0.85" fill="#111"/>
<circle cx="432.27" cy="322.53" r="0.85" fill="#111"/>
<circle cx="435.12" cy="322.53" r="0.85" fill="#111"/>
<circle cx="437.97" cy="322.53" r="0.85" fill="#111"/>
<circle cx="441.40" cy="322.53" r="0.85" fill="#111"/>
<circle cx="444.25" cy="322.53" r="0.85" fill="#111"/>
<circle cx="447.10" cy="322.53" r="0.85" fill="#111"/>
<circle cx="450.54" cy="322.53" r="0.85" fill="#111"/>
<circle cx="453.39" cy="322.53" r="0.85" fill="#111"/>
<circle cx="456.24" cy="322.53" r="0.85" fill="#111"/>
<circle cx="459.67" cy="322.53" r="0.85" fill="#111"/>
<circle cx="462.52" cy="322.53" r="0.85" fill="#111"/>
<circle cx="465.37" cy="322.53" r="0.85" fill="#111"/>
<circle cx="468.81" cy="322.53" r="0.85" fill="#111"/>
<circle cx="471.66" cy="322.53" r="0.85" fill="#111"/>
<circle cx="474.51" cy="322.53" r="0.85" fill="#111"/>
<circle cx="477.94" cy="322.53" r="0.85" fill="#111"/>
<circle cx="480.79" cy="322.53" r="0.85" fill="#111"/>
<circle cx="483.64" cy="322.53" r="0.85" fill="#111"/>
<circle cx="487.08" cy="322.53" r="0.85" fill="#111"/>
<circle cx="489.93" cy="322.53" r="0.85" fill="#111"/>
<circle cx="492.78" cy="322.53" r="0.85" fill="#111"/>
<circle cx="496.21" cy="322.53" r="0.85" fill="#111"/>
<circle cx="499.06" cy="322.53" r="0.85" fill="#111"/>
<circle cx="501.91" cy="322.53" r="0.85" fill="#111"/>
<circle cx="505.35" cy="322.53" r="0.85" fill="#111"/>
<circle cx="508.20" cy="322.53" r="0.85" fill="#111"/>
<circle cx="511.05" cy="322.53" r="0.85" fill="#111"/>
<circle cx="514.48" cy="322.53" r="0.85" fill="#111"/>
<circle cx="517.33" cy="322.53" r="0.85" fill="#111"/>
<circle cx="520.18" cy="322.53" r="0.85" fill="#111"/>
<circle cx="441.40" cy="331.68" r="0.85" fill="#111"/>
<circle cx="444.25" cy="331.68" r="0.85" fill="#111"/>
<circle cx="447.10" cy="331.68" r="0.85" fill="#111"/>
<circle cx="450.54" cy="331.68" r="0.85" fill="#111"/>
<circle cx="453.39" cy="331.68" r="0.85" fill="#111"/>
<circle cx="456.24" cy="331.68" r="0.85" fill="#111"/>
<circle cx="459.67" cy="331.68" r="0.85" fill="#111"/>
<circle cx="462.52" cy="331.68" r="0.85" fill="#111"/>
<circle cx="465.37" cy="331.68" r="0.85" fill="#111"/>
<circle cx="468.81" cy="331.68" r="0.85" fill="#111"/>
<circle cx="471.66" cy="331.68" r="0.85" fill="#111"/>
<circle cx="474.51" cy="331.68" r="0.85" fill="#111"/>
<circle cx="477.94" cy="331.68" r="0.85" fill="#111"/>
<circle cx="480.79" cy="331.68" r="0.85" fill="#111"/>
<circle cx="483.64" cy="331.68" r="0.85" fill="#111"/>
<circle cx="487.08" cy="331.68" r="0.85" fill="#111"/>
<circle cx="489.93" cy="331.68" r="0.85" fill="#111"/>
<circle cx="492.78" cy="331.68" r="0.85" fill="#111"/>
<circle cx="496.21" cy="331.68" r="0.85" fill="#111"/>
<circle cx="499.06" cy="331.68" r="0.85" fill="#111"/>
<circle cx="501.91" cy="331.68" r="0.85" fill="#111"/>
<circle cx="505.35" cy="331.68" r="0.85" fill="#111"/>
<circle cx="508.20" cy="331.68" r="0.85" fill="#111"/>
<circle cx="511.05" cy="331.68" r="0.85" fill="#111"/>
<circle cx="514.48" cy="331.68" r="0.85" fill="#111"/>
<circle cx="517.33" cy="331.68" r="0.85" fill="#111"/>
<circle cx="520.18" cy="331.68" r="0.85" fill="#111"/>
<circle cx="450.54" cy="340.84" r="0.85" fill="#111"/>
<circle cx="453.39" cy="340.84" r="0.85" fill="#111"/>
<circle cx="456.24" cy="340.84" r="0.85" fill="#111"/>
<circle cx="459.67" cy="340.84" r="0.85" fill="#111"/>
<circle cx="462.52" cy="340.84" r="0.85" fill="#111"/>
<circle cx="465.37" cy="340.84" r="0.85" fill="#111"/>
<circle cx="468.81" cy="340.84" r="0.85" fill="#111"/>
<circle cx="471.66" cy="340.84" r="0.85" fill="#111"/>
<circle cx="474.51" cy="340.84" r="0.85" fill="#111"/>
<circle cx="477.94" cy="340.84" r="0.85" fill="#111"/>
<circle cx="480.79" cy="340.84" r="0.85" fill="#111"/>
<circle cx="483.64" cy="340.84" r="0.85" fill="#111"/>
<circle cx="487.08" cy="340.84" r="0.85" fill="#111"/>
<circle cx="489.93" cy="340.84" r="0.85" fill="#111"/>
<circle cx="492.78" cy="340.84" r="0.85" fill="#111"/>
<circle cx="496.21" cy="340.84" r="0.85" fill="#111"/>
<circle cx="499.06" cy="340.84" r="0.85" fill="#111"/>
<circle cx="501.91" cy="340.84" r="0.85" fill="#111"/>
<circle cx="505.35" cy="340.84" r="0.85" fill="#111"/>
<circle cx="508.20" cy="340.84" r="0.85" fill="#111"/>
<circle cx="511.05" cy="340.84" r="0.85" fill="#111"/>
<circle cx="514.48" cy="340.84" r="0.85" fill="#111"/>
<circle cx="517.33" cy="340.84" r="0.85" fill="#111"/>
<circle cx="520.18" cy="340.84" r="0.85" fill="#111"/>
<circle cx="459.67" cy="349.99" r="0.85" fill="#111"/>
<circle cx="462.52" cy="349.99" r="0.85" fill="#111"/>
<circle cx="465.37" cy="349.99" r="0.85" fill="#111"/>
<circle cx="468.81" cy="349.99" r="0.85" fill="#111"/>
<circle cx="471.66" cy="349.99" r="0.85" fill="#111"/>
<circle cx="474.51" cy="349.99" r="0.85" fill="#111"/>
<circle cx="477.94" cy="349.99" r="0.85" fill="#111"/>
<circle cx="480.79" cy="349.99" r="0.85" fill="#111"/>
<circle cx="483.64" cy="349.99" r="0.85" fill="#111"/>
<circle cx="487.08" cy="349.99" r="0.85" fill="#111"/>
<circle cx="489.93" cy="349.99" r="0.85" fill="#111"/>
<circle cx="492.78" cy="349.99" r="0.85" fill="#111"/>
<circle cx="496.21" cy="349.99" r="0.85" fill="#111"/>
<circle cx="499.06" cy="349.99" r="0.85" fill="#111"/>
<circle cx="501.91" cy="349.99" r="0.85" fill="#111"/>
<circle cx="505.35" cy="349.99" r="0.85" fill="#111"/>
<circle cx="508.20" cy="349.99" r="0.85" fill="#111"/>
<circle cx="511.05" cy="349.99" r="0.85" fill="#111"/>
<circle cx="514.48" cy="349.99" r="0.85" fill="#111"/>
<circle cx="517.33" cy="349.99" r="0.85" fill="#111"/>
<circle cx="520.18" cy="349.99" r="0.85" fill="#111"/>
<circle cx="468.81" cy="359.15" r="0.85" fill="#111"/>
<circle cx="471.66" cy="359.15" r="0.85" fill="#111"/>
<circle cx="474.51" cy="359.15" r="0.85" fill="#111"/>
<circle cx="477.94" cy="359.15" r="0.85" fill="#111"/>
<circle cx="480.79" cy="359.15" r="0.85" fill="#111"/>
<circle cx="483.64" cy="359.15" r="0.85" fill="#111"/>
<circle cx="487.08" cy="359.15" r="0.85" fill="#111"/>
<circle cx="489.93" cy="359.15" r="0.85" fill="#111"/>
<circle cx="492.78" cy="359.15" r="0.85" fill="#111"/>
<circle cx="496.21" cy="359.15" r="0.85" fill="#111"/>
<circle cx="499.06" cy="359.15" r="0.85" fill="#111"/>
<circle cx="501.91" cy="359.15" r="0.85" fill="#111"/>
<circle cx="505.35" cy="359.15" r="0.85" fill="#111"/>
<circle cx="508.20" cy="359.15" r="0.85" fill="#111"/>
<circle cx="511.05" cy="359.15" r="0.85" fill="#111"/>
<circle cx="514.48" cy="359.15" r="0.85" fill="#111"/>
<circle cx="517.33" cy="359.15" r="0.85" fill="#111"/>
<circle cx="520.18" cy="359.15" r="0.85" fill="#111"/>
<circle cx="477.94" cy="368.30" r="0.85" fill="#111"/>
<circle cx="480.79" cy="368.30" r="0.85" fill="#111"/>
<circle cx="483.64" cy="368.30" r="0.85" fill="#111"/>
<circle cx="487.08" cy="368.30" r="0.85" fill="#111"/>
<circle cx="489.93" cy="368.30" r="0.85" fill="#111"/>
<circle cx="492.78" cy="368.30" r="0.85" fill="#111"/>
<circle cx="496.21" cy="368.30" r="0.85" fill="#111"/>
<circle cx="499.06" cy="368.30" r="0.85" fill="#111"/>
<circle cx="501.91" cy="368.30" r="0.85" fill="#111"/>
<circle cx="505.35" cy="368.30" r="0.85" fill="#111"/>
<circle cx="508.20" cy="368.30" r="0.85" fill="#111"/>
<circle cx="511.05" cy="368.30" r="0.85" fill="#111"/>
<circle cx="514.48" cy="368.30" r="0.85" fill="#111"/>
<circle cx="517.33" cy="368.30" r="0.85" fill="#111"/>
<circle cx="520.18" cy="368.30" r="0.85" fill="#111"/>
<circle cx="487.08" cy="377.46" r="0.85" fill="#111"/>
<circle cx="489.93" cy="377.46" r="0.85" fill="#111"/>
<circle cx="492.78" cy="377.46" r="0.85" fill="#111"/>
<circle cx="496.21" cy="377.46" r="0.85" fill="#111"/>
<circle cx="499.06" cy="377.46" r="0.85" fill="#111"/>
<circle cx="501.91" cy="377.46" r="0.85" fill="#111"/>
<circle cx="505.35" cy="377.46" r="0.85" fill="#111"/>
<circle cx="508.20" cy="377.46" r="0.85" fill="#111"/>
<circle cx="511.05" cy="377.46" r="0.85" fill="#111"/>
<circle cx="514.48" cy="377.46" r="0.85" fill="#111"/>
<circle cx="517.33" cy="377.46" r="0.85" fill="#111"/>
<circle cx="520.18" cy="377.46" r="0.85" fill="#111"/>
<circle cx="496.21" cy="386.61" r="0.85" fill="#111"/>
<circle cx="499.06" cy="386.61" r="0.85" fill="#111"/>
<circle cx="501.91" cy="386.61" r="0.85" fill="#111"/>
<circle cx="505.35" cy="386.61" r="0.85" fill="#111"/>
<circle cx="508.20" cy="386.61" r="0.85" fill="#111"/>
<circle cx="511.05" cy="386.61" r="0.85" fill="#111"/>
<circle cx="514.48" cy="386.61" r="0.85" fill="#111"/>
<circle cx="517.33" cy="386.61" r="0.85" fill="#111"/>
<circle cx="520.18" cy="386.61" r="0.85" fill="#111"/>
<circle cx="505.35" cy="395.77" r="0.85" fill="#111"/>
<circle cx="508.20" cy="395.77" r="0.85" fill="#111"/>
<circle cx="511.05" cy="395.77" r="0.85" fill="#111"/>
<circle cx="514.48" cy="395.77" r="0.85" fill="#111"/>
<circle cx="517.33" cy="395.77" r="0.85" fill="#111"/>
<circle cx="520.18" cy="395.77" r="0.85" fill="#111"/>
<circle cx="514.48" cy="404.92" r="0.85" fill="#111"/>
<circle cx="517.33" cy="404.92" r="0.85" fill="#111"/>
<circle cx="520.18" cy="404.92" r="0.85" fill="#111"/>
<text x="343.77" y="241.23" font-size="3.2" text-anchor="middle" fill="#4495d5" fill-opacity="0.8">0.607</text>
<text x="343.77" y="250.39" font-size="3.2" text-anchor="middle" fill="#4191d2" fill-opacity="0.8">0.625</text>
<text x="352.90" y="250.39" font-size="3.2" text-anchor="middle" fill="#3380c8" fill-opacity="0.8">0.708</text>
<text x="343.77" y="259.54" font-size="3.2" text-anchor="middle" fill="#69acde" fill-opacity="0.8">0.503</text>
<text x="352.90" y="259.54" font-size="3.2" text-anchor="middle" fill="#4b9ad7" fill-opacity="0.8">0.586</text>
<text x="362.04" y="259.54" font-size="3.2" text-anchor="middle" fill="#4495d5" fill-opacity="0.8">0.600</text>
<text x="343.77" y="268.70" font-size="3.2" text-anchor="middle" fill="#4495d5" fill-opacity="0.8">0.601</text>
<text x="352.90" y="268.70" font-size="3.2" text-anchor="middle" fill="#4495d5" fill-opacity="0.8">0.604</text>
<text x="362.04" y="268.70" font-size="3.2" text-anchor="middle" fill="#74b3e0" fill-opacity="0.8">0.477</text>
<text x="371.17" y="268.70" font-size="3.2" text-anchor="middle" fill="#69acde" fill-opacity="0.8">0.501</text>
<text x="343.77" y="277.85" font-size="3.2" text-anchor="middle" fill="#56a0d9" fill-opacity="0.8">0.558</text>
<text x="352.90" y="277.85" font-size="3.2" text-anchor="middle" fill="#4495d5" fill-opacity="0.8">0.602</text>
<text x="362.04" y="277.85" font-size="3.2" text-anchor="middle" fill="#2772c0" fill-opacity="0.8">0.775</text>
<text x="371.17" y="277.85" font-size="3.2" text-anchor="middle" fill="#56a0d9" fill-opacity="0.8">0.558</text>
<text x="380.31" y="277.85" font-size="3.2" text-anchor="middle" fill="#87bee4" fill-opacity="0.8">0.422</text>
<text x="343.77" y="287.01" font-size="3.2" text-anchor="middle" fill="#e7f2f9" fill-opacity="0.8">0.106</text>
<text x="352.90" y="287.01" font-size="3.2" text-anchor="middle" fill="#e7f2f9" fill-opacity="0.8">0.100</text>
<text x="362.04" y="287.01" font-size="3.2" text-anchor="middle" fill="#e2eff8" fill-opacity="0.8">0.123</text>
<text x="371.17" y="287.01" font-size="3.2" text-anchor="middle" fill="#dbebf6" fill-opacity="0.8">0.156</text>
<text x="380.31" y="287.01" font-size="3.2" text-anchor="middle" fill="#e2eff8" fill-opacity="0.8">0.120</text>
<text x="389.44" y="287.01" font-size="3.2" text-anchor="middle" fill="#dbebf6" fill-opacity="0.8">0.153</text>
<text x="343.77" y="296.16" font-size="3.2" text-anchor="middle" fill="#ffffff" fill-opacity="0.8">0.004</text>
<path d="M348.63 290.79 L357.17 299.34 M357.17 290.79 L348.63 299.34" stroke="#111" stroke-width="1.1"/>
<text x="362.04" y="296.16" font-size="3.2" text-anchor="middle" fill="#e7f2f9" fill-opacity="0.8">0.101</text>
<text x="371.17" y="296.16" font-size="3.2" text-anchor="middle" fill="#e7f2f9" fill-opacity="0.8">0.104</text>
<text x="380.31" y="296.16" font-size="3.2" text-anchor="middle" fill="#fff8f4" fill-opacity="0.8">-0.033</text>
<text x="389.44" y="296.16" font-size="3.2" text-anchor="middle" fill="#e7f2f9" fill-opacity="0.8">0.101</text>
<text x="398.58" y="296.16" font-size="3.2" text-anchor="middle" fill="#8ec3e6" fill-opacity="0.8">0.404</text>
<text x="343.77" y="305.32" font-size="3.2" text-anchor="middle" fill="#e7f2f9" fill-opacity="0.8">0.102</text>
<text x="352.90" y="305.32" font-size="3.2" text-anchor="middle" fill="#e7f2f9" fill-opacity="0.8">0.105</text>
<text x="362.04" y="305.32" font-size="3.2" text-anchor="middle" fill="#e2eff8" fill-opacity="0.8">0.128</text>
<text x="371.17" y="305.32" font-size="3.2" text-anchor="middle" fill="#e2eff8" fill-opacity="0.8">0.122</text>
<path d="M376.04 299.94 L384.57 308.49 M384.57 299.94 L376.04 308.49" stroke="#111" stroke-width="1.1"/>
<text x="389.44" y="305.32" font-size="3.2" text-anchor="middle" fill="#dbebf6" fill-opacity="0.8">0.158</text>
<text x="398.58" y="305.32" font-size="3.2" text-anchor="middle" fill="#69acde" fill-opacity="0.8">0.502</text>
<text x="407.71" y="305.32" font-size="3.2" text-anchor="middle" fill="#69acde" fill-opacity="0.8">0.505</text>
<text x="343.77" y="314.47" font-size="3.2" text-anchor="middle" fill="#4495d5" fill-opacity="0.8">0.600</text>
<text x="352.90" y="314.47" font-size="3.2" text-anchor="middle" fill="#2a76c2" fill-opacity="0.8">0.753</text>
<text x="362.04" y="314.47" font-size="3.2" text-anchor="middle" fill="#4495d5" fill-opacity="0.8">0.606</text>
<text x="371.17" y="314.47" font-size="3.2" text-anchor="middle" fill="#4495d5" fill-opacity="0.8">0.600</text>
<text x="380.31" y="314.47" font-size="3.2" text-anchor="middle" fill="#4495d5" fill-opacity="0.8">0.603</text>
<text x="389.44" y="314.47" font-size="3.2" text-anchor="middle" fill="#4495d5" fill-opacity="0.8">0.606</text>
<path d="M394.31 309.10 L402.84 317.65 M402.84 309.10 L394.31 317.65" stroke="#111" stroke-width="1.1"/>
<text x="407.71" y="314.47" font-size="3.2" text-anchor="middle" fill="#f8fbfd" fill-opacity="0.8">0.033</text>
<path d="M412.58 309.10 L421.11 317.65 M421.11 309.10 L412.58 317.65" stroke="#111" stroke-width="1.1"/>
<text x="343.77" y="323.63" font-size="3.2" text-anchor="middle" fill="#3380c8" fill-opacity="0.8">0.707</text>
<text x="352.90" y="323.63" font-size="3.2" text-anchor="middle" fill="#4495d5" fill-opacity="0.8">0.601</text>
<text x="362.04" y="323.63" font-size="3.2" text-anchor="middle" fill="#4495d5" fill-opacity="0.8">0.604</text>
<text x="371.17" y="323.63" font-size="3.2" text-anchor="middle" fill="#56a0d9" fill-opacity="0.8">0.557</text>
<text x="380.31" y="323.63" font-size="3.2" text-anchor="middle" fill="#56a0d9" fill-opacity="0.8">0.551</text>
<text x="389.44" y="323.63" font-size="3.2" text-anchor="middle" fill="#3c8bcf" fill-opacity="0.8">0.654</text>
<text x="398.58" y="323.63" font-size="3.2" text-anchor="middle" fill="#f5fafd" fill-opacity="0.8">0.047</text>
<text x="407.71" y="323.63" font-size="3.2" text-anchor="middle" fill="#f8fbfd" fill-opacity="0.8">0.031</text>
<path d="M412.58 318.25 L421.11 326.80 M421.11 318.25 L412.58 326.80" stroke="#111" stroke-width="1.1"/>
<text x="425.98" y="323.63" font-size="3.2" text-anchor="middle" fill="#3380c8" fill-opacity="0.8">0.707</text>
<text x="343.77" y="332.78" font-size="3.2" text-anchor="middle" fill="#56a0d9" fill-opacity="0.8">0.555</text>
<text x="352.90" y="332.78" font-size="3.2" text-anchor="middle" fill="#4495d5" fill-opacity="0.8">0.608</text>
<text x="362.04" y="332.78" font-size="3.2" text-anchor="middle" fill="#3c8bcf" fill-opacity="0.8">0.652</text>
<text x="371.17" y="332.78" font-size="3.2" text-anchor="middle" fill="#69acde" fill-opacity="0.8">0.505</text>
<text x="380.31" y="332.78" font-size="3.2" text-anchor="middle" fill="#9ecbe9" fill-opacity="0.8">0.358</text>
<text x="389.44" y="332.78" font-size="3.2" text-anchor="middle" fill="#3380c8" fill-opacity="0.8">0.702</text>
<text x="398.58" y="332.78" font-size="3.2" text-anchor="middle" fill="#f8fbfd" fill-opacity="0.8">0.035</text>
<path d="M403.44 327.41 L411.98 335.96 M411.98 327.41 L403.44 335.96" stroke="#111" stroke-width="1.1"/>
<path d="M412.58 327.41 L421.11 335.96 M421.11 327.41 L412.58 335.96" stroke="#111" stroke-width="1.1"/>
<text x="425.98" y="332.78" font-size="3.2" text-anchor="middle" fill="#2a76c2" fill-opacity="0.8">0.755</text>
<text x="435.12" y="332.78" font-size="3.2" text-anchor="middle" fill="#3380c8" fill-opacity="0.8">0.708</text>
<text x="343.77" y="341.94" font-size="3.2" text-anchor="middle" fill="#69acde" fill-opacity="0.8">0.503</text>
<text x="352.90" y="341.94" font-size="3.2" text-anchor="middle" fill="#4495d5" fill-opacity="0.8">0.606</text>
<text x="362.04" y="341.94" font-size="3.2" text-anchor="middle" fill="#4495d5" fill-opacity="0.8">0.600</text>
<text x="371.17" y="341.94" font-size="3.2" text-anchor="middle" fill="#69acde" fill-opacity="0.8">0.503</text>
<text x="380.31" y="341.94" font-size="3.2" text-anchor="middle" fill="#8ec3e6" fill-opacity="0.8">0.406</text>
<text x="389.44" y="341.94" font-size="3.2" text-anchor="middle" fill="#4495d5" fill-opacity="0.8">0.600</text>
<text x="398.58" y="341.94" font-size="3.2" text-anchor="middle" fill="#c8e1f2" fill-opacity="0.8">0.223</text>
<text x="407.71" y="341.94" font-size="3.2" text-anchor="middle" fill="#bfdcf0" fill-opacity="0.8">0.256</text>
<text x="416.85" y="341.94" font-size="3.2" text-anchor="middle" fill="#bfdcf0" fill-opacity="0.8">0.250</text>
<text x="425.98" y="341.94" font-size="3.2" text-anchor="middle" fill="#3c8bcf" fill-opacity="0.8">0.653</text>
<text x="435.12" y="341.94" font-size="3.2" text-anchor="middle" fill="#4495d5" fill-opacity="0.8">0.606</text>
<text x="444.25" y="341.94" font-size="3.2" text-anchor="middle" fill="#56a0d9" fill-opacity="0.8">0.550</text>
<text x="343.77" y="351.09" font-size="3.2" text-anchor="middle" fill="#4495d5" fill-opacity="0.8">0.601</text>
<text x="352.90" y="351.09" font-size="3.2" text-anchor="middle" fill="#56a0d9" fill-opacity="0.8">0.554</text>
<text x="362.04" y="351.09" font-size="3.2" text-anchor="middle" fill="#2a76c2" fill-opacity="0.8">0.757</text>
<text x="371.17" y="351.09" font-size="3.2" text-anchor="middle" fill="#4495d5" fill-opacity="0.8">0.601</text>
<text x="380.31" y="351.09" font-size="3.2" text-anchor="middle" fill="#87bee4" fill-opacity="0.8">0.424</text>
<text x="389.44" y="351.09" font-size="3.2" text-anchor="middle" fill="#3c8bcf" fill-opacity="0.8">0.657</text>
<path d="M394.31 345.71 L402.84 354.27 M402.84 345.71 L394.31 354.27" stroke="#111" stroke-width="1.1"/>
<text x="407.71" y="351.09" font-size="3.2" text-anchor="middle" fill="#e7f2f9" fill-opacity="0.8">0.104</text>
<text x="416.85" y="351.09" font-size="3.2" text-anchor="middle" fill="#f3f8fc" fill-opacity="0.8">0.057</text>
<text x="425.98" y="351.09" font-size="3.2" text-anchor="middle" fill="#3380c8" fill-opacity="0.8">0.701</text>
<text x="435.12" y="351.09" font-size="3.2" text-anchor="middle" fill="#3c8bcf" fill-opacity="0.8">0.654</text>
<text x="444.25" y="351.09" font-size="3.2" text-anchor="middle" fill="#3c8bcf" fill-opacity="0.8">0.657</text>
<text x="453.39" y="351.09" font-size="3.2" text-anchor="middle" fill="#3c8bcf" fill-opacity="0.8">0.651</text>
<text x="343.77" y="360.25" font-size="3.2" text-anchor="middle" fill="#4495d5" fill-opacity="0.8">0.608</text>
<text x="352.90" y="360.25" font-size="3.2" text-anchor="middle" fill="#4495d5" fill-opacity="0.8">0.602</text>
<text x="362.04" y="360.25" font-size="3.2" text-anchor="middle" fill="#2a76c2" fill-opacity="0.8">0.755</text>
<text x="371.17" y="360.25" font-size="3.2" text-anchor="middle" fill="#3380c8" fill-opacity="0.8">0.708</text>
<text x="380.31" y="360.25" font-size="3.2" text-anchor="middle" fill="#4495d5" fill-opacity="0.8">0.602</text>
<text x="389.44" y="360.25" font-size="3.2" text-anchor="middle" fill="#226cbc" fill-opacity="0.8">0.805</text>
<text x="398.58" y="360.25" font-size="3.2" text-anchor="middle" fill="#f1f7fb" fill-opacity="0.8">0.068</text>
<text x="407.71" y="360.25" font-size="3.2" text-anchor="middle" fill="#e7f2f9" fill-opacity="0.8">0.102</text>
<text x="416.85" y="360.25" font-size="3.2" text-anchor="middle" fill="#e7f2f9" fill-opacity="0.8">0.105</text>
<text x="425.98" y="360.25" font-size="3.2" text-anchor="middle" fill="#2a76c2" fill-opacity="0.8">0.758</text>
<text x="435.12" y="360.25" font-size="3.2" text-anchor="middle" fill="#3380c8" fill-opacity="0.8">0.702</text>
<text x="444.25" y="360.25" font-size="3.2" text-anchor="middle" fill="#2a76c2" fill-opacity="0.8">0.755</text>
<text x="453.39" y="360.25" font-size="3.2" text-anchor="middle" fill="#3c8bcf" fill-opacity="0.8">0.658</text>
<text x="462.52" y="360.25" font-size="3.2" text-anchor="middle" fill="#3c8bcf" fill-opacity="0.8">0.652</text>
<text x="343.77" y="369.40" font-size="3.2" text-anchor="middle" fill="#56a0d9" fill-opacity="0.8">0.556</text>
<text x="352.90" y="369.40" font-size="3.2" text-anchor="middle" fill="#3380c8" fill-opacity="0.8">0.700</text>
<text x="362.04" y="369.40" font-size="3.2" text-anchor="middle" fill="#4495d5" fill-opacity="0.8">0.603</text>
<text x="371.17" y="369.40" font-size="3.2" text-anchor="middle" fill="#4495d5" fill-opacity="0.8">0.606</text>
<text x="380.31" y="369.40" font-size="3.2" text-anchor="middle" fill="#56a0d9" fill-opacity="0.8">0.550</text>
<text x="389.44" y="369.40" font-size="3.2" text-anchor="middle" fill="#3380c8" fill-opacity="0.8">0.703</text>
<text x="398.58" y="369.40" font-size="3.2" text-anchor="middle" fill="#f1f7fb" fill-opacity="0.8">0.066</text>
<text x="407.71" y="369.40" font-size="3.2" text-anchor="middle" fill="#ecf4fa" fill-opacity="0.8">0.080</text>
<text x="416.85" y="369.40" font-size="3.2" text-anchor="middle" fill="#e7f2f9" fill-opacity="0.8">0.103</text>
<text x="425.98" y="369.40" font-size="3.2" text-anchor="middle" fill="#3380c8" fill-opacity="0.8">0.706</text>
<text x="435.12" y="369.40" font-size="3.2" text-anchor="middle" fill="#3c8bcf" fill-opacity="0.8">0.650</text>
<text x="444.25" y="369.40" font-size="3.2" text-anchor="middle" fill="#3c8bcf" fill-opacity="0.8">0.653</text>
<text x="453.39" y="369.40" font-size="3.2" text-anchor="middle" fill="#4495d5" fill-opacity="0.8">0.606</text>
<text x="462.52" y="369.40" font-size="3.2" text-anchor="middle" fill="#4495d5" fill-opacity="0.8">0.600</text>
<text x="471.66" y="369.40" font-size="3.2" text-anchor="middle" fill="#4495d5" fill-opacity="0.8">0.603</text>
<text x="343.77" y="378.56" font-size="3.2" text-anchor="middle" fill="#69acde" fill-opacity="0.8">0.504</text>
<text x="352.90" y="378.56" font-size="3.2" text-anchor="middle" fill="#4495d5" fill-opacity="0.8">0.607</text>
<text x="362.04" y="378.56" font-size="3.2" text-anchor="middle" fill="#4495d5" fill-opacity="0.8">0.601</text>
<text x="371.17" y="378.56" font-size="3.2" text-anchor="middle" fill="#4495d5" fill-opacity="0.8">0.604</text>
<text x="380.31" y="378.56" font-size="3.2" text-anchor="middle" fill="#8ec3e6" fill-opacity="0.8">0.407</text>
<text x="389.44" y="378.56" font-size="3.2" text-anchor="middle" fill="#3c8bcf" fill-opacity="0.8">0.651</text>
<text x="398.58" y="378.56" font-size="3.2" text-anchor="middle" fill="#f1f7fb" fill-opacity="0.8">0.064</text>
<text x="407.71" y="378.56" font-size="3.2" text-anchor="middle" fill="#e7f2f9" fill-opacity="0.8">0.107</text>
<text x="416.85" y="378.56" font-size="3.2" text-anchor="middle" fill="#e7f2f9" fill-opacity="0.8">0.101</text>
<text x="425.98" y="378.56" font-size="3.2" text-anchor="middle" fill="#3c8bcf" fill-opacity="0.8">0.654</text>
<text x="435.12" y="378.56" font-size="3.2" text-anchor="middle" fill="#4495d5" fill-opacity="0.8">0.607</text>
<text x="444.25" y="378.56" font-size="3.2" text-anchor="middle" fill="#4495d5" fill-opacity="0.8">0.601</text>
<text x="453.39" y="378.56" font-size="3.2" text-anchor="middle" fill="#3c8bcf" fill-opacity="0.8">0.654</text>
<text x="462.52" y="378.56" font-size="3.2" text-anchor="middle" fill="#4495d5" fill-opacity="0.8">0.607</text>
<text x="471.66" y="378.56" font-size="3.2" text-anchor="middle" fill="#4495d5" fill-opacity="0.8">0.601</text>
<text x="480.79" y="378.56" font-size="3.2" text-anchor="middle" fill="#56a0d9" fill-opacity="0.8">0.554</text>
<text x="343.77" y="387.71" font-size="3.2" text-anchor="middle" fill="#3c8bcf" fill-opacity="0.8">0.652</text>
<text x="352.90" y="387.71" font-size="3.2" text-anchor="middle" fill="#3380c8" fill-opacity="0.8">0.705</text>
<text x="362.04" y="387.71" font-size="3.2" text-anchor="middle" fill="#3380c8" fill-opacity="0.8">0.708</text>
<text x="371.17" y="387.71" font-size="3.2" text-anchor="middle" fill="#3380c8" fill-opacity="0.8">0.702</text>
<text x="380.31" y="387.71" font-size="3.2" text-anchor="middle" fill="#3c8bcf" fill-opacity="0.8">0.655</text>
<text x="389.44" y="387.71" font-size="3.2" text-anchor="middle" fill="#3380c8" fill-opacity="0.8">0.708</text>
<text x="398.58" y="387.71" font-size="3.2" text-anchor="middle" fill="#f1f7fb" fill-opacity="0.8">0.062</text>
<path d="M403.44 382.33 L411.98 390.89 M411.98 382.33 L403.44 390.89" stroke="#111" stroke-width="1.1"/>
<path d="M412.58 382.33 L421.11 390.89 M421.11 382.33 L412.58 390.89" stroke="#111" stroke-width="1.1"/>
<text x="425.98" y="387.71" font-size="3.2" text-anchor="middle" fill="#226cbc" fill-opacity="0.8">0.802</text>
<text x="435.12" y="387.71" font-size="3.2" text-anchor="middle" fill="#2a76c2" fill-opacity="0.8">0.755</text>
<text x="444.25" y="387.71" font-size="3.2" text-anchor="middle" fill="#3380c8" fill-opacity="0.8">0.708</text>
<text x="453.39" y="387.71" font-size="3.2" text-anchor="middle" fill="#3380c8" fill-opacity="0.8">0.702</text>
<text x="462.52" y="387.71" font-size="3.2" text-anchor="middle" fill="#3380c8" fill-opacity="0.8">0.705</text>
<text x="471.66" y="387.71" font-size="3.2" text-anchor="middle" fill="#2a76c2" fill-opacity="0.8">0.758</text>
<text x="480.79" y="387.71" font-size="3.2" text-anchor="middle" fill="#3380c8" fill-opacity="0.8">0.702</text>
<text x="489.93" y="387.71" font-size="3.2" text-anchor="middle" fill="#3380c8" fill-opacity="0.8">0.705</text>
<text x="343.77" y="396.87" font-size="3.2" text-anchor="middle" fill="#4495d5" fill-opacity="0.8">0.600</text>
<text x="352.90" y="396.87" font-size="3.2" text-anchor="middle" fill="#4495d5" fill-opacity="0.8">0.603</text>
<text x="362.04" y="396.87" font-size="3.2" text-anchor="middle" fill="#4495d5" fill-opacity="0.8">0.606</text>
<text x="371.17" y="396.87" font-size="3.2" text-anchor="middle" fill="#4495d5" fill-opacity="0.8">0.600</text>
<text x="380.31" y="396.87" font-size="3.2" text-anchor="middle" fill="#56a0d9" fill-opacity="0.8">0.553</text>
<text x="389.44" y="396.87" font-size="3.2" text-anchor="middle" fill="#4495d5" fill-opacity="0.8">0.606</text>
<text x="398.58" y="396.87" font-size="3.2" text-anchor="middle" fill="#f1f7fb" fill-opacity="0.8">0.060</text>
<text x="407.71" y="396.87" font-size="3.2" text-anchor="middle" fill="#fef1e9" fill-opacity="0.8">-0.077</text>
<path d="M412.58 391.49 L421.11 400.04 M421.11 391.49 L412.58 400.04" stroke="#111" stroke-width="1.1"/>
<text x="425.98" y="396.87" font-size="3.2" text-anchor="middle" fill="#2a76c2" fill-opacity="0.8">0.750</text>
<text x="435.12" y="396.87" font-size="3.2" text-anchor="middle" fill="#3380c8" fill-opacity="0.8">0.703</text>
<text x="444.25" y="396.87" font-size="3.2" text-anchor="middle" fill="#3c8bcf" fill-opacity="0.8">0.656</text>
<text x="453.39" y="396.87" font-size="3.2" text-anchor="middle" fill="#3c8bcf" fill-opacity="0.8">0.650</text>
<text x="462.52" y="396.87" font-size="3.2" text-anchor="middle" fill="#3380c8" fill-opacity="0.8">0.703</text>
<text x="471.66" y="396.87" font-size="3.2" text-anchor="middle" fill="#3c8bcf" fill-opacity="0.8">0.656</text>
<text x="480.79" y="396.87" font-size="3.2" text-anchor="middle" fill="#3c8bcf" fill-opacity="0.8">0.650</text>
<text x="489.93" y="396.87" font-size="3.2" text-anchor="middle" fill="#3c8bcf" fill-opacity="0.8">0.653</text>
<text x="499.06" y="396.87" font-size="3.2" text-anchor="middle" fill="#2a76c2" fill-opacity="0.8">0.756</text>
<text x="343.77" y="406.02" font-size="3.2" text-anchor="middle" fill="#56a0d9" fill-opacity="0.8">0.557</text>
<text x="352.90" y="406.02" font-size="3.2" text-anchor="middle" fill="#4495d5" fill-opacity="0.8">0.601</text>
<text x="362.04" y="406.02" font-size="3.2" text-anchor="middle" fill="#4495d5" fill-opacity="0.8">0.604</text>
<text x="371.17" y="406.02" font-size="3.2" text-anchor="middle" fill="#4495d5" fill-opacity="0.8">0.607</text>
<text x="380.31" y="406.02" font-size="3.2" text-anchor="middle" fill="#56a0d9" fill-opacity="0.8">0.551</text>
<text x="389.44" y="406.02" font-size="3.2" text-anchor="middle" fill="#56a0d9" fill-opacity="0.8">0.554</text>
<text x="398.58" y="406.02" font-size="3.2" text-anchor="middle" fill="#f1f7fb" fill-opacity="0.8">0.067</text>
<text x="407.71" y="406.02" font-size="3.2" text-anchor="middle" fill="#f5fafd" fill-opacity="0.8">0.041</text>
<text x="416.85" y="406.02" font-size="3.2" text-anchor="middle" fill="#e7f2f9" fill-opacity="0.8">0.104</text>
<text x="425.98" y="406.02" font-size="3.2" text-anchor="middle" fill="#3380c8" fill-opacity="0.8">0.707</text>
<text x="435.12" y="406.02" font-size="3.2" text-anchor="middle" fill="#3c8bcf" fill-opacity="0.8">0.651</text>
<text x="444.25" y="406.02" font-size="3.2" text-anchor="middle" fill="#4495d5" fill-opacity="0.8">0.604</text>
<text x="453.39" y="406.02" font-size="3.2" text-anchor="middle" fill="#4495d5" fill-opacity="0.8">0.607</text>
<text x="462.52" y="406.02" font-size="3.2" text-anchor="middle" fill="#4495d5" fill-opacity="0.8">0.601</text>
<text x="471.66" y="406.02" font-size="3.2" text-anchor="middle" fill="#4495d5" fill-opacity="0.8">0.604</text>
<text x="480.79" y="406.02" font-size="3.2" text-anchor="middle" fill="#4495d5" fill-opacity="0.8">0.607</text>
<text x="489.93" y="406.02" font-size="3.2" text-anchor="middle" fill="#4495d5" fill-opacity="0.8">0.601</text>
<text x="499.06" y="406.02" font-size="3.2" text-anchor="middle" fill="#3c8bcf" fill-opacity="0.8">0.654</text>
<text x="508.20" y="406.02" font-size="3.2" text-anchor="middle" fill="#3c8bcf" fill-opacity="0.8">0.657</text>
<text x="335.2" y="233.18" font-size="6.4" text-anchor="end" fill="#151515" stroke="#151515" stroke-width="0.15">ALKBH5</text>
<text x="335.2" y="242.33" font-size="6.4" text-anchor="end" fill="#151515" stroke="#151515" stroke-width="0.15">CBLL1</text>
<text x="335.2" y="251.49" font-size="6.4" text-anchor="end" fill="#151515" stroke="#151515" stroke-width="0.15">ELAVL1</text>
<text x="335.2" y="260.64" font-size="6.4" text-anchor="end" fill="#151515" stroke="#151515" stroke-width="0.15">FMR1</text>
<text x="335.2" y="269.80" font-size="6.4" text-anchor="end" fill="#151515" stroke="#151515" stroke-width="0.15">FTO</text>
<text x="335.2" y="278.95" font-size="6.4" text-anchor="end" fill="#151515" stroke="#151515" stroke-width="0.15">HNRNPC</text>
<text x="335.2" y="288.11" font-size="6.4" text-anchor="end" fill="#151515" stroke="#151515" stroke-width="0.15">IGF2BP1</text>
<text x="335.2" y="297.26" font-size="6.4" text-anchor="end" fill="#151515" stroke="#151515" stroke-width="0.15">IGF2BP2</text>
<text x="335.2" y="306.42" font-size="6.4" text-anchor="end" fill="#151515" stroke="#151515" stroke-width="0.15">IGF2BP3</text>
<text x="335.2" y="315.57" font-size="6.4" text-anchor="end" fill="#151515" stroke="#151515" stroke-width="0.15">METTL14</text>
<text x="335.2" y="324.73" font-size="6.4" text-anchor="end" fill="#151515" stroke="#151515" stroke-width="0.15">METTL16</text>
<text x="335.2" y="333.88" font-size="6.4" text-anchor="end" fill="#151515" stroke="#151515" stroke-width="0.15">METTL3</text>
<text x="335.2" y="343.04" font-size="6.4" text-anchor="end" fill="#151515" stroke="#151515" stroke-width="0.15">RBM15</text>
<text x="335.2" y="352.19" font-size="6.4" text-anchor="end" fill="#151515" stroke="#151515" stroke-width="0.15">RBM15B</text>
<text x="335.2" y="361.35" font-size="6.4" text-anchor="end" fill="#151515" stroke="#151515" stroke-width="0.15">RBMX</text>
<text x="335.2" y="370.50" font-size="6.4" text-anchor="end" fill="#151515" stroke="#151515" stroke-width="0.15">VIRMA</text>
<text x="335.2" y="379.66" font-size="6.4" text-anchor="end" fill="#151515" stroke="#151515" stroke-width="0.15">WTAP</text>
<text x="335.2" y="388.81" font-size="6.4" text-anchor="end" fill="#151515" stroke="#151515" stroke-width="0.15">YTHDC1</text>
<text x="335.2" y="397.97" font-size="6.4" text-anchor="end" fill="#151515" stroke="#151515" stroke-width="0.15">YTHDC2</text>
<text x="335.2" y="407.12" font-size="6.4" text-anchor="end" fill="#151515" stroke="#151515" stroke-width="0.15">ZCCHC4</text>
<text transform="translate(344.97 224.8) rotate(-45)" font-size="6.3" fill="#151515" stroke="#151515" stroke-width="0.15">ALKBH5</text>
<text transform="translate(354.10 224.8) rotate(-45)" font-size="6.3" fill="#151515" stroke="#151515" stroke-width="0.15">CBLL1</text>
<text transform="translate(363.24 224.8) rotate(-45)" font-size="6.3" fill="#151515" stroke="#151515" stroke-width="0.15">ELAVL1</text>
<text transform="translate(372.37 224.8) rotate(-45)" font-size="6.3" fill="#151515" stroke="#151515" stroke-width="0.15">FMR1</text>
<text transform="translate(381.51 224.8) rotate(-45)" font-size="6.3" fill="#151515" stroke="#151515" stroke-width="0.15">FTO</text>
<text transform="translate(390.64 224.8) rotate(-45)" font-size="6.3" fill="#151515" stroke="#151515" stroke-width="0.15">HNRNPC</text>
<text transform="translate(399.78 224.8) rotate(-45)" font-size="6.3" fill="#151515" stroke="#151515" stroke-width="0.15">IGF2BP1</text>
<text transform="translate(408.91 224.8) rotate(-45)" font-size="6.3" fill="#151515" stroke="#151515" stroke-width="0.15">IGF2BP2</text>
<text transform="translate(418.05 224.8) rotate(-45)" font-size="6.3" fill="#151515" stroke="#151515" stroke-width="0.15">IGF2BP3</text>
<text transform="translate(427.18 224.8) rotate(-45)" font-size="6.3" fill="#151515" stroke="#151515" stroke-width="0.15">METTL14</text>
<text transform="translate(436.32 224.8) rotate(-45)" font-size="6.3" fill="#151515" stroke="#151515" stroke-width="0.15">METTL16</text>
<text transform="translate(445.45 224.8) rotate(-45)" font-size="6.3" fill="#151515" stroke="#151515" stroke-width="0.15">METTL3</text>
<text transform="translate(454.59 224.8) rotate(-45)" font-size="6.3" fill="#151515" stroke="#151515" stroke-width="0.15">RBM15</text>
<text transform="translate(463.72 224.8) rotate(-45)" font-size="6.3" fill="#151515" stroke="#151515" stroke-width="0.15">RBM15B</text>
<text transform="translate(472.86 224.8) rotate(-45)" font-size="6.3" fill="#151515" stroke="#151515" stroke-width="0.15">RBMX</text>
<text transform="translate(481.99 224.8) rotate(-45)" font-size="6.3" fill="#151515" stroke="#151515" stroke-width="0.15">VIRMA</text>
<text transform="translate(491.13 224.8) rotate(-45)" font-size="6.3" fill="#151515" stroke="#151515" stroke-width="0.15">WTAP</text>
<text transform="translate(500.26 224.8) rotate(-45)" font-size="6.3" fill="#151515" stroke="#151515" stroke-width="0.15">YTHDC1</text>
<text transform="translate(509.40 224.8) rotate(-45)" font-size="6.3" fill="#151515" stroke="#151515" stroke-width="0.15">YTHDC2</text>
<text transform="translate(518.53 224.8) rotate(-45)" font-size="6.3" fill="#151515" stroke="#151515" stroke-width="0.15">ZCCHC4</text>
<defs><linearGradient id="cb" x1="0" y1="0" x2="0" y2="1">
<stop offset="0.000" stop-color="#072f66"/>
<stop offset="0.050" stop-color="#144e91"/>
<stop offset="0.100" stop-color="#226cbc"/>
<stop offset="0.150" stop-color="#3380c8"/>
<stop offset="0.200" stop-color="#4495d5"/>
<stop offset="0.250" stop-color="#69acde"/>
<stop offset="0.300" stop-color="#8ec3e6"/>
<stop offset="0.350" stop-color="#afd4ec"/>
<stop offset="0.400" stop-color="#cfe4f3"/>
<stop offset="0.450" stop-color="#e7f2f9"/>
<stop offset="0.500" stop-color="#ffffff"/>
<stop offset="0.550" stop-color="#feede3"/>
<stop offset="0.600" stop-color="#fddbc7"/>
<stop offset="0.650" stop-color="#f8c0a4"/>
<stop offset="0.700" stop-color="#f4a582"/>
<stop offset="0.750" stop-color="#e58268"/>
<stop offset="0.800" stop-color="#d6604d"/>
<stop offset="0.850" stop-color="#c43c3c"/>
<stop offset="0.900" stop-color="#b2182b"/>
<stop offset="0.950" stop-color="#8c0c25"/>
<stop offset="1.000" stop-color="#67001f"/>
</linearGradient></defs>
<rect x="525.1" y="226.3" width="7.2" height="183.2" fill="url(#cb)"/>
<line x1="532.3" x2="534.3" y1="226.40" y2="226.40" stroke="#888" stroke-width="0.5"/>
<text x="540.7" y="229.00" font-size="5.4" text-anchor="middle" fill="#3a3a3a">1</text>
<line x1="532.3" x2="534.3" y1="244.71" y2="244.71" stroke="#888" stroke-width="0.5"/>
<text x="540.7" y="247.31" font-size="5.4" text-anchor="middle" fill="#3a3a3a">0.8</text>
<line x1="532.3" x2="534.3" y1="263.02" y2="263.02" stroke="#888" stroke-width="0.5"/>
<text x="540.7" y="265.62" font-size="5.4" text-anchor="middle" fill="#3a3a3a">0.6</text>
<line x1="532.3" x2="534.3" y1="281.33" y2="281.33" stroke="#888" stroke-width="0.5"/>
<text x="540.7" y="283.93" font-size="5.4" text-anchor="middle" fill="#3a3a3a">0.4</text>
<line x1="532.3" x2="534.3" y1="299.64" y2="299.64" stroke="#888" stroke-width="0.5"/>
<text x="540.7" y="302.24" font-size="5.4" text-anchor="middle" fill="#3a3a3a">0.2</text>
<line x1="532.3" x2="534.3" y1="317.95" y2="317.95" stroke="#888" stroke-width="0.5"/>
<text x="540.7" y="320.55" font-size="5.4" text-anchor="middle" fill="#3a3a3a">0</text>
<line x1="532.3" x2="534.3" y1="336.26" y2="336.26" stroke="#888" stroke-width="0.5"/>
<text x="540.7" y="338.86" font-size="5.4" text-anchor="middle" fill="#3a3a3a">-0.2</text>
<line x1="532.3" x2="534.3" y1="354.57" y2="354.57" stroke="#888" stroke-width="0.5"/>
<text x="540.7" y="357.17" font-size="5.4" text-anchor="middle" fill="#3a3a3a">-0.4</text>
<line x1="532.3" x2="534.3" y1="372.88" y2="372.88" stroke="#888" stroke-width="0.5"/>
<text x="540.7" y="375.48" font-size="5.4" text-anchor="middle" fill="#3a3a3a">-0.6</text>
<line x1="532.3" x2="534.3" y1="391.19" y2="391.19" stroke="#888" stroke-width="0.5"/>
<text x="540.7" y="393.79" font-size="5.4" text-anchor="middle" fill="#3a3a3a">-0.8</text>
<line x1="532.3" x2="534.3" y1="409.50" y2="409.50" stroke="#888" stroke-width="0.5"/>
<text x="540.7" y="412.10" font-size="5.4" text-anchor="middle" fill="#3a3a3a">-1</text>
</g>
</svg></body></html>
